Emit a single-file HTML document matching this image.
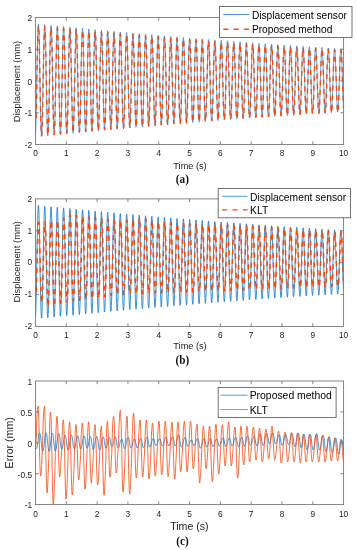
<!DOCTYPE html>
<html lang="en"><head><meta charset="utf-8"><title>Displacement comparison</title>
<style>
html,body{margin:0;padding:0;background:#fff;}
body{width:357px;height:550px;overflow:hidden;}
svg{display:block;}
text{font-family:"Liberation Sans",sans-serif;fill:#222;}
.tk{font-size:8.3px;}
.xl{font-size:9.2px;}
.yl{font-size:9.4px;}
.lg{fill:#000;}
.cap{font-family:"Liberation Serif","DejaVu Serif",serif;font-weight:bold;font-size:12.2px;fill:#111;}
</style></head><body>
<svg width="357" height="550" viewBox="0 0 357 550">
<rect width="100%" height="100%" fill="#fff"/>
<clipPath id="ca"><rect x="35.5" y="17.5" width="308.1" height="127.0"/></clipPath>
<g clip-path="url(#ca)" fill="none" stroke-linejoin="round">
<path d="M35.5 135.3L35.7 131.6L35.9 126.0L36.1 118.7L36.3 110.0L36.5 100.2L36.7 89.7L36.8 78.8L37.0 68.0L37.2 57.7L37.4 48.3L37.6 40.0L37.8 33.2L38.0 28.1L38.2 25.0L38.4 23.9L38.6 24.8L38.8 27.9L39.0 32.8L39.2 39.5L39.4 47.7L39.5 57.0L39.7 67.3L39.9 78.0L40.1 88.8L40.3 99.2L40.5 109.0L40.7 117.7L40.9 125.0L41.1 130.7L41.3 134.5L41.5 136.4L41.7 136.2L41.9 133.9L42.0 129.7L42.2 123.6L42.4 116.0L42.6 107.1L42.8 97.2L43.0 86.6L43.2 75.9L43.4 65.3L43.6 55.3L43.8 46.3L44.0 38.4L44.2 32.2L44.4 27.7L44.6 25.1L44.7 24.6L44.9 26.1L45.1 29.6L45.3 35.0L45.5 42.0L45.7 50.5L45.9 60.0L46.1 70.3L46.3 80.9L46.5 91.5L46.7 101.7L46.9 111.1L47.1 119.4L47.2 126.2L47.4 131.3L47.6 134.6L47.8 135.9L48.0 135.1L48.2 132.3L48.4 127.6L48.6 121.2L48.8 113.3L49.0 104.2L49.2 94.2L49.4 83.7L49.6 73.1L49.7 62.7L49.9 53.1L50.1 44.4L50.3 37.1L50.5 31.3L50.7 27.4L50.9 25.4L51.1 25.4L51.3 27.5L51.5 31.5L51.7 37.3L51.9 44.6L52.1 53.3L52.3 63.0L52.4 73.3L52.6 83.8L52.8 94.2L53.0 104.1L53.2 113.1L53.4 120.9L53.6 127.2L53.8 131.8L54.0 134.5L54.2 135.2L54.4 133.9L54.6 130.6L54.8 125.5L54.9 118.7L55.1 110.5L55.3 101.2L55.5 91.2L55.7 80.8L55.9 70.3L56.1 60.2L56.3 50.9L56.5 42.7L56.7 35.8L56.9 30.6L57.1 27.3L57.3 25.8L57.5 26.4L57.6 29.0L57.8 33.4L58.0 39.6L58.2 47.3L58.4 56.1L58.6 65.9L58.8 76.2L59.0 86.6L59.2 96.8L59.4 106.4L59.6 115.0L59.8 122.3L60.0 128.1L60.1 132.2L60.3 134.3L60.5 134.4L60.7 132.6L60.9 128.8L61.1 123.3L61.3 116.2L61.5 107.8L61.7 98.3L61.9 88.3L62.1 77.9L62.3 67.7L62.5 57.9L62.7 48.9L62.8 41.1L63.0 34.8L63.2 30.1L63.4 27.3L63.6 26.4L63.8 27.6L64.0 30.6L64.2 35.5L64.4 42.0L64.6 50.0L64.8 59.0L65.0 68.8L65.2 79.1L65.3 89.3L65.5 99.3L65.7 108.5L65.9 116.7L66.1 123.6L66.3 128.8L66.5 132.3L66.7 133.9L66.9 133.5L67.1 131.1L67.3 126.9L67.5 121.0L67.7 113.6L67.9 105.0L68.0 95.5L68.2 85.4L68.4 75.1L68.6 65.1L68.8 55.6L69.0 47.1L69.2 39.7L69.4 33.9L69.6 29.8L69.8 27.5L70.0 27.2L70.2 28.8L70.4 32.3L70.5 37.6L70.7 44.5L70.9 52.7L71.1 61.8L71.3 71.7L71.5 81.9L71.7 92.0L71.9 101.6L72.1 110.5L72.3 118.3L72.5 124.7L72.7 129.4L72.9 132.3L73.0 133.3L73.2 132.4L73.4 129.6L73.6 124.9L73.8 118.7L74.0 111.0L74.2 102.2L74.4 92.6L74.6 82.6L74.8 72.5L75.0 62.6L75.2 53.5L75.4 45.3L75.6 38.5L75.7 33.1L75.9 29.6L76.1 27.8L76.3 28.1L76.5 30.2L76.7 34.2L76.9 39.8L77.1 47.0L77.3 55.4L77.5 64.7L77.7 74.5L77.9 84.6L78.1 94.5L78.2 103.9L78.4 112.4L78.6 119.7L78.8 125.6L79.0 129.8L79.2 132.2L79.4 132.7L79.6 131.2L79.8 127.9L80.0 122.9L80.2 116.3L80.4 108.4L80.6 99.4L80.8 89.8L80.9 79.8L81.1 69.8L81.3 60.3L81.5 51.5L81.7 43.7L81.9 37.4L82.1 32.5L82.3 29.5L82.5 28.3L82.7 29.1L82.9 31.7L83.1 36.1L83.3 42.1L83.4 49.6L83.6 58.1L83.8 67.5L84.0 77.3L84.2 87.3L84.4 96.9L84.6 106.0L84.8 114.1L85.0 121.0L85.2 126.4L85.4 130.0L85.6 131.9L85.8 131.9L86.0 129.9L86.1 126.2L86.3 120.7L86.5 113.8L86.7 105.7L86.9 96.6L87.1 87.0L87.3 77.1L87.5 67.3L87.7 58.1L87.9 49.6L88.1 42.3L88.3 36.4L88.5 32.1L88.6 29.6L88.8 28.9L89.0 30.2L89.2 33.3L89.4 38.1L89.6 44.5L89.8 52.1L90.0 60.8L90.2 70.3L90.4 80.0L90.6 89.8L90.8 99.3L91.0 108.0L91.2 115.7L91.3 122.1L91.5 127.0L91.7 130.1L91.9 131.5L92.1 130.9L92.3 128.5L92.5 124.3L92.7 118.5L92.9 111.3L93.1 103.0L93.3 93.9L93.5 84.2L93.7 74.5L93.8 64.9L94.0 55.9L94.2 47.9L94.4 41.0L94.6 35.6L94.8 31.8L95.0 29.8L95.2 29.7L95.4 31.4L95.6 35.0L95.8 40.2L96.0 46.8L96.2 54.7L96.3 63.6L96.5 73.0L96.7 82.7L96.9 92.3L97.1 101.5L97.3 109.9L97.5 117.2L97.7 123.1L97.9 127.5L98.1 130.1L98.3 130.9L98.5 129.8L98.7 127.0L98.9 122.4L99.0 116.3L99.2 108.8L99.4 100.3L99.6 91.1L99.8 81.5L100.0 71.9L100.2 62.6L100.4 54.0L100.6 46.3L100.8 39.9L101.0 34.9L101.2 31.7L101.4 30.2L101.5 30.6L101.7 32.8L101.9 36.8L102.1 42.3L102.3 49.3L102.5 57.3L102.7 66.3L102.9 75.7L103.1 85.3L103.3 94.7L103.5 103.6L103.7 111.6L103.9 118.5L104.1 123.9L104.2 127.8L104.4 129.9L104.6 130.2L104.8 128.7L105.0 125.3L105.2 120.4L105.4 113.9L105.6 106.3L105.8 97.7L106.0 88.4L106.2 78.9L106.4 69.5L106.6 60.4L106.7 52.1L106.9 44.8L107.1 38.8L107.3 34.4L107.5 31.7L107.7 30.7L107.9 31.6L108.1 34.3L108.3 38.6L108.5 44.5L108.7 51.7L108.9 60.0L109.1 68.9L109.3 78.4L109.4 87.8L109.6 97.0L109.8 105.6L110.0 113.2L110.2 119.7L110.4 124.6L110.6 128.0L110.8 129.6L111.0 129.4L111.2 127.4L111.4 123.6L111.6 118.3L111.8 111.6L111.9 103.7L112.1 95.0L112.3 85.8L112.5 76.4L112.7 67.1L112.9 58.3L113.1 50.3L113.3 43.5L113.5 38.0L113.7 34.0L113.9 31.8L114.1 31.4L114.3 32.7L114.5 35.8L114.6 40.6L114.8 46.8L115.0 54.2L115.2 62.6L115.4 71.6L115.6 80.9L115.8 90.3L116.0 99.2L116.2 107.5L116.4 114.7L116.6 120.7L116.8 125.2L117.0 128.0L117.1 129.1L117.3 128.4L117.5 126.0L117.7 121.8L117.9 116.2L118.1 109.2L118.3 101.2L118.5 92.4L118.7 83.2L118.9 73.9L119.1 64.8L119.3 56.3L119.5 48.7L119.6 42.3L119.8 37.3L120.0 33.8L120.2 32.1L120.4 32.1L120.6 34.0L120.8 37.5L121.0 42.6L121.2 49.1L121.4 56.7L121.6 65.2L121.8 74.2L122.0 83.5L122.2 92.6L122.3 101.3L122.5 109.2L122.7 116.0L122.9 121.6L123.1 125.6L123.3 127.9L123.5 128.5L123.7 127.3L123.9 124.5L124.1 119.9L124.3 114.0L124.5 106.8L124.7 98.6L124.8 89.8L125.0 80.6L125.2 71.5L125.4 62.6L125.6 54.4L125.8 47.2L126.0 41.2L126.2 36.7L126.4 33.7L126.6 32.5L126.8 33.0L127.0 35.3L127.2 39.2L127.4 44.7L127.5 51.4L127.7 59.2L127.9 67.8L128.1 76.8L128.3 85.9L128.5 94.9L128.7 103.3L128.9 110.8L129.1 117.3L129.3 122.3L129.5 125.8L129.7 127.7L129.9 127.8L130.0 126.2L130.2 122.9L130.4 118.0L130.6 111.7L130.8 104.3L131.0 96.1L131.2 87.2L131.4 78.1L131.6 69.1L131.8 60.5L132.0 52.7L132.2 45.9L132.4 40.3L132.6 36.2L132.7 33.8L132.9 33.0L133.1 34.0L133.3 36.7L133.5 41.0L133.7 46.8L133.9 53.8L134.1 61.7L134.3 70.3L134.5 79.3L134.7 88.3L134.9 97.0L135.1 105.1L135.2 112.3L135.4 118.3L135.6 122.9L135.8 126.0L136.0 127.3L136.2 127.0L136.4 124.9L136.6 121.2L136.8 116.0L137.0 109.5L137.2 101.9L137.4 93.5L137.6 84.7L137.8 75.7L137.9 66.9L138.1 58.6L138.3 51.1L138.5 44.7L138.7 39.5L138.9 35.9L139.1 34.0L139.3 33.7L139.5 35.2L139.7 38.3L139.9 42.9L140.1 49.0L140.3 56.1L140.4 64.2L140.6 72.8L140.8 81.8L141.0 90.6L141.2 99.1L141.4 106.9L141.6 113.7L141.8 119.3L142.0 123.4L142.2 126.0L142.4 126.8L142.6 126.0L142.8 123.5L142.9 119.4L143.1 113.9L143.3 107.2L143.5 99.4L143.7 91.0L143.9 82.2L144.1 73.3L144.3 64.7L144.5 56.7L144.7 49.6L144.9 43.6L145.1 38.9L145.3 35.8L145.5 34.3L145.6 34.5L145.8 36.4L146.0 39.9L146.2 44.9L146.4 51.2L146.6 58.5L146.8 66.7L147.0 75.3L147.2 84.2L147.4 92.8L147.6 101.1L147.8 108.5L148.0 114.9L148.1 120.1L148.3 123.7L148.5 125.8L148.7 126.2L148.9 125.0L149.1 122.0L149.3 117.6L149.5 111.8L149.7 104.8L149.9 97.0L150.1 88.5L150.3 79.8L150.5 71.1L150.7 62.7L150.8 55.0L151.0 48.2L151.2 42.6L151.4 38.4L151.6 35.7L151.8 34.7L152.0 35.4L152.2 37.7L152.4 41.6L152.6 46.9L152.8 53.4L153.0 60.9L153.2 69.1L153.3 77.8L153.5 86.5L153.7 95.0L153.9 102.9L154.1 110.0L154.3 116.0L154.5 120.7L154.7 123.9L154.9 125.6L155.1 125.5L155.3 123.8L155.5 120.5L155.7 115.7L155.9 109.6L156.0 102.5L156.2 94.5L156.4 86.1L156.6 77.4L156.8 68.9L157.0 60.7L157.2 53.3L157.4 46.9L157.6 41.8L157.8 38.0L158.0 35.8L158.2 35.3L158.4 36.4L158.5 39.1L158.7 43.4L158.9 48.9L159.1 55.7L159.3 63.3L159.5 71.6L159.7 80.2L159.9 88.7L160.1 97.0L160.3 104.7L160.5 111.4L160.7 117.0L160.9 121.3L161.1 124.0L161.2 125.2L161.4 124.7L161.6 122.5L161.8 118.8L162.0 113.8L162.2 107.4L162.4 100.1L162.6 92.1L162.8 83.7L163.0 75.1L163.2 66.7L163.4 58.9L163.6 51.8L163.7 45.8L163.9 41.1L164.1 37.8L164.3 36.1L164.5 36.0L164.7 37.5L164.9 40.6L165.1 45.2L165.3 51.0L165.5 58.0L165.7 65.7L165.9 74.0L166.1 82.5L166.2 90.9L166.4 98.9L166.6 106.3L166.8 112.7L167.0 117.9L167.2 121.7L167.4 124.0L167.6 124.6L167.8 123.7L168.0 121.2L168.2 117.1L168.4 111.8L168.6 105.2L168.8 97.8L168.9 89.7L169.1 81.3L169.3 72.9L169.5 64.7L169.7 57.2L169.9 50.4L170.1 44.8L170.3 40.5L170.5 37.7L170.7 36.4L170.9 36.8L171.1 38.7L171.3 42.2L171.4 47.1L171.6 53.2L171.8 60.3L172.0 68.1L172.2 76.4L172.4 84.8L172.6 93.0L172.8 100.8L173.0 107.8L173.2 113.8L173.4 118.6L173.6 121.9L173.8 123.8L174.0 124.0L174.1 122.6L174.3 119.7L174.5 115.4L174.7 109.7L174.9 103.0L175.1 95.5L175.3 87.4L175.5 79.0L175.7 70.7L175.9 62.8L176.1 55.5L176.3 49.2L176.5 43.9L176.6 40.1L176.8 37.7L177.0 36.9L177.2 37.7L177.4 40.0L177.6 43.8L177.8 49.0L178.0 55.3L178.2 62.6L178.4 70.4L178.6 78.7L178.8 87.0L179.0 95.0L179.2 102.5L179.3 109.2L179.5 114.8L179.7 119.2L179.9 122.1L180.1 123.5L180.3 123.3L180.5 121.5L180.7 118.2L180.9 113.5L181.1 107.6L181.3 100.8L181.5 93.1L181.7 85.0L181.8 76.8L182.0 68.7L182.2 61.0L182.4 54.0L182.6 48.0L182.8 43.2L183.0 39.8L183.2 37.8L183.4 37.5L183.6 38.7L183.8 41.4L184.0 45.6L184.2 51.0L184.4 57.5L184.5 64.9L184.7 72.8L184.9 81.0L185.1 89.1L185.3 96.9L185.5 104.2L185.7 110.5L185.9 115.7L186.1 119.6L186.3 122.1L186.5 123.1L186.7 122.4L186.9 120.3L187.0 116.6L187.2 111.7L187.4 105.5L187.6 98.5L187.8 90.8L188.0 82.8L188.2 74.6L188.4 66.7L188.6 59.2L188.8 52.6L189.0 47.0L189.2 42.6L189.4 39.6L189.6 38.1L189.7 38.1L189.9 39.8L190.1 42.9L190.3 47.3L190.5 53.0L190.7 59.7L190.9 67.1L191.1 75.1L191.3 83.2L191.5 91.2L191.7 98.8L191.9 105.7L192.1 111.7L192.2 116.5L192.4 120.0L192.6 122.0L192.8 122.5L193.0 121.5L193.2 118.9L193.4 115.0L193.6 109.7L193.8 103.4L194.0 96.3L194.2 88.5L194.4 80.5L194.6 72.5L194.7 64.8L194.9 57.6L195.1 51.3L195.3 46.1L195.5 42.1L195.7 39.5L195.9 38.5L196.1 38.9L196.3 40.9L196.5 44.4L196.7 49.2L196.9 55.1L197.1 61.9L197.3 69.4L197.4 77.3L197.6 85.3L197.8 93.1L198.0 100.5L198.2 107.1L198.4 112.7L198.6 117.1L198.8 120.2L199.0 121.8L199.2 121.9L199.4 120.4L199.6 117.5L199.8 113.2L199.9 107.8L200.1 101.3L200.3 94.0L200.5 86.3L200.7 78.3L200.9 70.5L201.1 62.9L201.3 56.1L201.5 50.1L201.7 45.3L201.9 41.7L202.1 39.6L202.3 38.9L202.5 39.8L202.6 42.2L202.8 46.0L203.0 51.0L203.2 57.1L203.4 64.1L203.6 71.6L203.8 79.5L204.0 87.4L204.2 95.0L204.4 102.1L204.6 108.4L204.8 113.6L205.0 117.7L205.1 120.3L205.3 121.5L205.5 121.1L205.7 119.3L205.9 116.0L206.1 111.5L206.3 105.8L206.5 99.1L206.7 91.8L206.9 84.1L207.1 76.2L207.3 68.5L207.5 61.2L207.7 54.7L207.8 49.1L208.0 44.6L208.2 41.5L208.4 39.8L208.6 39.5L208.8 40.8L209.0 43.6L209.2 47.6L209.4 52.9L209.6 59.2L209.8 66.3L210.0 73.9L210.2 81.7L210.3 89.4L210.5 96.8L210.7 103.6L210.9 109.6L211.1 114.4L211.3 118.1L211.5 120.3L211.7 121.0L211.9 120.3L212.1 118.1L212.3 114.5L212.5 109.7L212.7 103.8L212.9 97.0L213.0 89.6L213.2 81.9L213.4 74.1L213.6 66.6L213.8 59.6L214.0 53.4L214.2 48.1L214.4 44.1L214.6 41.3L214.8 40.0L215.0 40.2L215.2 41.9L215.4 45.0L215.5 49.4L215.7 54.9L215.9 61.3L216.1 68.5L216.3 76.0L216.5 83.8L216.7 91.4L216.9 98.5L217.1 105.1L217.3 110.7L217.5 115.1L217.7 118.3L217.9 120.1L218.0 120.5L218.2 119.4L218.4 116.8L218.6 112.9L218.8 107.8L219.0 101.7L219.2 94.8L219.4 87.4L219.6 79.8L219.8 72.2L220.0 64.8L220.2 58.1L220.4 52.2L220.6 47.3L220.7 43.6L220.9 41.3L221.1 40.4L221.3 41.0L221.5 43.1L221.7 46.5L221.9 51.1L222.1 56.8L222.3 63.4L222.5 70.6L222.7 78.2L222.9 85.8L223.1 93.2L223.2 100.2L223.4 106.4L223.6 111.6L223.8 115.7L224.0 118.5L224.2 119.9L224.4 119.8L224.6 118.3L224.8 115.4L225.0 111.2L225.2 105.9L225.4 99.7L225.6 92.7L225.8 85.3L225.9 77.7L226.1 70.2L226.3 63.1L226.5 56.7L226.7 51.1L226.9 46.6L227.1 43.3L227.3 41.4L227.5 40.9L227.7 41.9L227.9 44.3L228.1 48.0L228.3 52.9L228.4 58.8L228.6 65.5L228.8 72.8L229.0 80.3L229.2 87.8L229.4 95.0L229.6 101.7L229.8 107.6L230.0 112.5L230.2 116.2L230.4 118.6L230.6 119.5L230.8 119.1L231.0 117.2L231.1 114.0L231.3 109.5L231.5 104.0L231.7 97.6L231.9 90.6L232.1 83.2L232.3 75.7L232.5 68.4L232.7 61.5L232.9 55.3L233.1 50.1L233.3 46.0L233.5 43.1L233.6 41.6L233.8 41.5L234.0 42.9L234.2 45.6L234.4 49.6L234.6 54.8L234.8 60.8L235.0 67.6L235.2 74.9L235.4 82.3L235.6 89.7L235.8 96.7L236.0 103.1L236.2 108.7L236.3 113.2L236.5 116.5L236.7 118.5L236.9 119.1L237.1 118.3L237.3 116.0L237.5 112.5L237.7 107.8L237.9 102.1L238.1 95.5L238.3 88.5L238.5 81.1L238.7 73.8L238.8 66.6L239.0 60.0L239.2 54.1L239.4 49.2L239.6 45.5L239.8 43.0L240.0 41.9L240.2 42.2L240.4 44.0L240.6 47.0L240.8 51.3L241.0 56.6L241.2 62.8L241.3 69.7L241.5 76.9L241.7 84.3L241.9 91.5L242.1 98.3L242.3 104.4L242.5 109.7L242.7 113.8L242.9 116.8L243.1 118.3L243.3 118.5L243.5 117.3L243.7 114.8L243.9 110.9L244.0 106.0L244.2 100.1L244.4 93.5L244.6 86.4L244.8 79.1L245.0 71.9L245.2 64.9L245.4 58.6L245.6 53.0L245.8 48.5L246.0 45.1L246.2 43.0L246.4 42.3L246.5 43.0L246.7 45.1L246.9 48.5L247.1 53.0L247.3 58.5L247.5 64.9L247.7 71.8L247.9 79.0L248.1 86.2L248.3 93.2L248.5 99.8L248.7 105.6L248.9 110.5L249.1 114.3L249.2 116.9L249.4 118.1L249.6 117.9L249.8 116.3L250.0 113.4L250.2 109.3L250.4 104.2L250.6 98.1L250.8 91.5L251.0 84.4L251.2 77.2L251.4 70.1L251.6 63.3L251.7 57.3L251.9 52.0L252.1 47.8L252.3 44.8L252.5 43.2L252.7 42.8L252.9 43.9L253.1 46.3L253.3 50.0L253.5 54.7L253.7 60.4L253.9 66.9L254.1 73.8L254.3 80.9L254.4 88.1L254.6 94.9L254.8 101.2L255.0 106.8L255.2 111.3L255.4 114.7L255.6 116.9L255.8 117.7L256.0 117.1L256.2 115.2L256.4 112.0L256.6 107.7L256.8 102.3L256.9 96.2L257.1 89.4L257.3 82.4L257.5 75.3L257.7 68.3L257.9 61.8L258.1 56.0L258.3 51.1L258.5 47.3L258.7 44.7L258.9 43.4L259.1 43.5L259.3 44.9L259.5 47.6L259.6 51.5L259.8 56.5L260.0 62.4L260.2 68.9L260.4 75.8L260.6 82.9L260.8 89.9L261.0 96.5L261.2 102.6L261.4 107.8L261.6 112.0L261.8 115.0L262.0 116.8L262.1 117.2L262.3 116.3L262.5 114.1L262.7 110.6L262.9 106.0L263.1 100.5L263.3 94.2L263.5 87.4L263.7 80.4L263.9 73.4L264.1 66.7L264.3 60.4L264.5 54.9L264.6 50.3L264.8 46.9L265.0 44.6L265.2 43.7L265.4 44.2L265.6 45.9L265.8 48.9L266.0 53.1L266.2 58.3L266.4 64.3L266.6 70.8L266.8 77.8L267.0 84.8L267.2 91.6L267.3 98.0L267.5 103.8L267.7 108.7L267.9 112.5L268.1 115.2L268.3 116.6L268.5 116.7L268.7 115.4L268.9 112.8L269.1 109.1L269.3 104.3L269.5 98.6L269.7 92.3L269.8 85.5L270.0 78.5L270.2 71.6L270.4 65.1L270.6 59.1L270.8 53.9L271.0 49.6L271.2 46.5L271.4 44.7L271.6 44.1L271.8 44.9L272.0 47.0L272.2 50.3L272.4 54.8L272.5 60.1L272.7 66.2L272.9 72.8L273.1 79.7L273.3 86.6L273.5 93.2L273.7 99.4L273.9 104.9L274.1 109.5L274.3 113.0L274.5 115.3L274.7 116.3L274.9 116.0L275.0 114.4L275.2 111.5L275.4 107.5L275.6 102.5L275.8 96.7L276.0 90.3L276.2 83.5L276.4 76.7L276.6 69.9L276.8 63.6L277.0 57.8L277.2 52.9L277.4 49.1L277.6 46.3L277.7 44.8L277.9 44.7L278.1 45.8L278.3 48.2L278.5 51.8L278.7 56.4L278.9 61.9L279.1 68.1L279.3 74.7L279.5 81.6L279.7 88.3L279.9 94.8L280.1 100.8L280.2 106.0L280.4 110.2L280.6 113.3L280.8 115.3L281.0 115.9L281.2 115.3L281.4 113.3L281.6 110.2L281.8 105.9L282.0 100.8L282.2 94.8L282.4 88.4L282.6 81.6L282.8 74.9L282.9 68.3L283.1 62.2L283.3 56.7L283.5 52.1L283.7 48.6L283.9 46.2L284.1 45.1L284.3 45.3L284.5 46.8L284.7 49.5L284.9 53.3L285.1 58.1L285.3 63.8L285.4 70.0L285.6 76.6L285.8 83.4L286.0 90.0L286.2 96.3L286.4 102.0L286.6 106.9L286.8 110.8L287.0 113.6L287.2 115.2L287.4 115.5L287.6 114.5L287.8 112.2L287.9 108.8L288.1 104.3L288.3 99.0L288.5 93.0L288.7 86.5L288.9 79.8L289.1 73.1L289.3 66.7L289.5 60.8L289.7 55.7L289.9 51.4L290.1 48.2L290.3 46.2L290.5 45.4L290.6 46.0L290.8 47.8L291.0 50.8L291.2 54.8L291.4 59.8L291.6 65.6L291.8 71.9L292.0 78.5L292.2 85.2L292.4 91.7L292.6 97.7L292.8 103.2L293.0 107.7L293.1 111.3L293.3 113.7L293.5 114.9L293.7 114.9L293.9 113.6L294.1 111.0L294.3 107.3L294.5 102.7L294.7 97.2L294.9 91.1L295.1 84.6L295.3 78.0L295.5 71.4L295.7 65.2L295.8 59.6L296.0 54.7L296.2 50.8L296.4 47.9L296.6 46.3L296.8 45.9L297.0 46.8L297.2 48.9L297.4 52.1L297.6 56.4L297.8 61.6L298.0 67.4L298.2 73.8L298.3 80.3L298.5 86.9L298.7 93.2L298.9 99.1L299.1 104.2L299.3 108.5L299.5 111.7L299.7 113.8L299.9 114.6L300.1 114.2L300.3 112.6L300.5 109.7L300.7 105.8L300.9 101.0L301.0 95.4L301.2 89.2L301.4 82.8L301.6 76.2L301.8 69.8L302.0 63.8L302.2 58.4L302.4 53.9L302.6 50.2L302.8 47.8L303.0 46.5L303.2 46.4L303.4 47.6L303.5 50.0L303.7 53.5L303.9 58.0L304.1 63.3L304.3 69.3L304.5 75.6L304.7 82.1L304.9 88.6L305.1 94.7L305.3 100.3L305.5 105.2L305.7 109.1L305.9 112.0L306.1 113.7L306.2 114.2L306.4 113.5L306.6 111.5L306.8 108.4L307.0 104.3L307.2 99.3L307.4 93.6L307.6 87.4L307.8 81.0L308.0 74.5L308.2 68.3L308.4 62.5L308.6 57.4L308.7 53.1L308.9 49.8L309.1 47.7L309.3 46.7L309.5 47.0L309.7 48.5L309.9 51.2L310.1 55.0L310.3 59.7L310.5 65.1L310.7 71.1L310.9 77.4L311.1 83.9L311.2 90.2L311.4 96.1L311.6 101.5L311.8 106.0L312.0 109.7L312.2 112.2L312.4 113.6L312.6 113.8L312.8 112.7L313.0 110.4L313.2 107.1L313.4 102.7L313.6 97.6L313.8 91.8L313.9 85.6L314.1 79.2L314.3 72.9L314.5 66.8L314.7 61.3L314.9 56.4L315.1 52.4L315.3 49.5L315.5 47.7L315.7 47.1L315.9 47.7L316.1 49.5L316.3 52.5L316.4 56.5L316.6 61.3L316.8 66.9L317.0 72.9L317.2 79.2L317.4 85.5L317.6 91.7L317.8 97.4L318.0 102.5L318.2 106.8L318.4 110.1L318.6 112.3L318.8 113.4L319.0 113.2L319.1 111.8L319.3 109.3L319.5 105.7L319.7 101.2L319.9 95.9L320.1 90.0L320.3 83.8L320.5 77.5L320.7 71.3L320.9 65.4L321.1 60.1L321.3 55.5L321.5 51.9L321.6 49.3L321.8 47.8L322.0 47.5L322.2 48.5L322.4 50.6L322.6 53.8L322.8 58.0L323.0 63.0L323.2 68.6L323.4 74.7L323.6 80.9L323.8 87.2L324.0 93.2L324.2 98.7L324.3 103.5L324.5 107.5L324.7 110.5L324.9 112.3L325.1 113.0L325.3 112.5L325.5 110.9L325.7 108.1L325.9 104.2L326.1 99.5L326.3 94.1L326.5 88.3L326.7 82.1L326.8 75.8L327.0 69.8L327.2 64.1L327.4 59.0L327.6 54.7L327.8 51.4L328.0 49.1L328.2 48.0L328.4 48.1L328.6 49.3L328.8 51.7L329.0 55.2L329.2 59.5L329.4 64.6L329.5 70.4L329.7 76.4L329.9 82.6L330.1 88.7L330.3 94.6L330.5 99.8L330.7 104.4L330.9 108.1L331.1 110.7L331.3 112.3L331.5 112.6L331.7 111.8L331.9 109.8L332.0 106.8L332.2 102.8L332.4 97.9L332.6 92.4L332.8 86.5L333.0 80.4L333.2 74.2L333.4 68.3L333.6 62.8L333.8 58.0L334.0 54.0L334.2 51.0L334.4 49.1L334.5 48.3L334.7 48.7L334.9 50.2L335.1 52.9L335.3 56.5L335.5 61.1L335.7 66.3L335.9 72.1L336.1 78.1L336.3 84.3L336.5 90.3L336.7 95.9L336.9 100.9L337.1 105.2L337.2 108.6L337.4 110.9L337.6 112.1L337.8 112.1L338.0 111.0L338.2 108.8L338.4 105.5L338.6 101.3L338.8 96.3L339.0 90.7L339.2 84.8L339.4 78.7L339.6 72.7L339.7 66.9L339.9 61.7L340.1 57.1L340.3 53.4L340.5 50.7L340.7 49.1L340.9 48.6L341.1 49.4L341.3 51.2L341.5 54.1L341.7 58.0L341.9 62.7L342.1 68.0L342.3 73.8L342.4 79.8L342.6 85.9L342.8 91.7L343.0 97.1L343.2 101.9L343.4 105.9L343.6 109.0" stroke="#0a76cf" stroke-width="0.65" opacity="1"/>
<path d="M35.5 111.8L35.7 118.9L35.9 119.8L36.1 116.4L36.3 110.1L36.5 101.7L36.7 92.0L36.8 81.7L37.0 71.2L37.2 61.1L37.4 51.6L37.6 43.2L37.8 36.3L38.0 31.0L38.2 27.5L38.4 26.0L38.6 26.5L38.8 29.0L39.0 33.5L39.2 39.7L39.4 47.3L39.5 56.3L39.7 66.1L39.9 76.5L40.1 87.0L40.3 97.3L40.5 107.0L40.7 115.7L40.9 123.2L41.1 129.1L41.3 133.2L41.5 135.4L41.7 135.6L41.9 133.8L42.0 130.1L42.2 124.5L42.4 117.4L42.6 108.9L42.8 99.4L43.0 89.3L43.2 78.8L43.4 68.5L43.6 58.6L43.8 49.5L44.0 41.6L44.2 35.1L44.4 30.4L44.6 27.5L44.7 26.6L44.9 27.6L45.1 30.7L45.3 35.5L45.5 42.1L45.7 50.0L45.9 59.1L46.1 69.0L46.3 79.4L46.5 89.8L46.7 99.8L46.9 109.2L47.1 117.5L47.2 124.4L47.4 129.8L47.6 133.4L47.8 135.0L48.0 134.7L48.2 132.4L48.4 128.2L48.6 122.2L48.8 114.8L49.0 106.1L49.2 96.5L49.4 86.4L49.6 76.0L49.7 65.9L49.9 56.3L50.1 47.6L50.3 40.2L50.5 34.2L50.7 30.0L50.9 27.7L51.1 27.3L51.3 28.9L51.5 32.4L51.7 37.7L51.9 44.6L52.1 52.8L52.3 62.0L52.4 71.9L52.6 82.2L52.8 92.4L53.0 102.2L53.2 111.2L53.4 119.1L53.6 125.6L53.8 130.4L54.0 133.4L54.2 134.5L54.4 133.6L54.6 130.8L54.8 126.2L54.9 119.9L55.1 112.2L55.3 103.3L55.5 93.6L55.7 83.5L55.9 73.3L56.1 63.4L56.3 54.1L56.5 45.8L56.7 38.9L56.9 33.4L57.1 29.8L57.3 28.0L57.5 28.1L57.6 30.2L57.8 34.2L58.0 39.9L58.2 47.1L58.4 55.5L58.6 64.9L58.8 74.8L59.0 85.0L59.2 95.0L59.4 104.5L59.6 113.1L59.8 120.5L60.0 126.5L60.1 130.8L60.3 133.3L60.5 133.8L60.7 132.4L60.9 129.2L61.1 124.1L61.3 117.5L61.5 109.5L61.7 100.5L61.9 90.8L62.1 80.7L62.3 70.7L62.5 61.0L62.7 52.1L62.8 44.2L63.0 37.7L63.2 32.8L63.4 29.7L63.6 28.4L63.8 29.1L64.0 31.7L64.2 36.1L64.4 42.2L64.6 49.6L64.8 58.3L65.0 67.7L65.2 77.6L65.3 87.7L65.5 97.5L65.7 106.6L65.9 114.9L66.1 121.8L66.3 127.3L66.5 131.1L66.7 133.0L66.9 133.0L67.1 131.1L67.3 127.4L67.5 122.0L67.7 115.0L67.9 106.8L68.0 97.7L68.2 88.0L68.4 78.0L68.6 68.1L68.8 58.7L69.0 50.2L69.2 42.8L69.4 36.7L69.6 32.4L69.8 29.8L70.0 29.1L70.2 30.3L70.4 33.3L70.5 38.1L70.7 44.5L70.9 52.2L71.1 61.0L71.3 70.5L71.5 80.4L71.7 90.3L71.9 99.8L72.1 108.7L72.3 116.5L72.5 123.0L72.7 128.0L72.9 131.2L73.0 132.6L73.2 132.1L73.4 129.7L73.6 125.5L73.8 119.7L74.0 112.5L74.2 104.1L74.4 94.9L74.6 85.2L74.8 75.3L75.0 65.7L75.2 56.6L75.4 48.4L75.6 41.4L75.7 35.9L75.9 32.0L76.1 30.0L76.3 29.8L76.5 31.5L76.7 35.0L76.9 40.2L77.1 46.9L77.3 54.9L77.5 63.8L77.7 73.3L77.9 83.1L78.1 92.8L78.2 102.1L78.4 110.6L78.6 118.0L78.8 124.0L79.0 128.5L79.2 131.2L79.4 132.0L79.6 131.0L79.8 128.2L80.0 123.6L80.2 117.5L80.4 110.0L80.6 101.4L80.8 92.2L80.9 82.5L81.1 72.7L81.3 63.3L81.5 54.6L81.7 46.8L81.9 40.2L82.1 35.2L82.3 31.9L82.5 30.3L82.7 30.7L82.9 32.9L83.1 36.8L83.3 42.4L83.4 49.3L83.6 57.5L83.8 66.5L84.0 76.0L84.2 85.7L84.4 95.2L84.6 104.2L84.8 112.3L85.0 119.3L85.2 124.9L85.4 128.8L85.6 131.0L85.8 131.4L86.0 129.9L86.1 126.6L86.3 121.6L86.5 115.1L86.7 107.4L86.9 98.8L87.1 89.4L87.3 79.8L87.5 70.3L87.7 61.1L87.9 52.7L88.1 45.3L88.3 39.2L88.5 34.7L88.6 31.9L88.8 30.8L89.0 31.7L89.2 34.3L89.4 38.7L89.6 44.6L89.8 51.8L90.0 60.1L90.2 69.2L90.4 78.7L90.6 88.3L90.8 97.6L91.0 106.2L91.2 114.0L91.3 120.5L91.5 125.6L91.7 129.0L91.9 130.7L92.1 130.5L92.3 128.6L92.5 124.8L92.7 119.5L92.9 112.8L93.1 104.9L93.3 96.1L93.5 86.8L93.7 77.2L93.8 67.8L94.0 59.0L94.2 50.9L94.4 43.9L94.6 38.3L94.8 34.3L95.0 32.0L95.2 31.5L95.4 32.8L95.6 35.9L95.8 40.6L96.0 46.8L96.2 54.3L96.3 62.8L96.5 71.9L96.7 81.3L96.9 90.7L97.1 99.8L97.3 108.1L97.5 115.5L97.7 121.6L97.9 126.2L98.1 129.1L98.3 130.3L98.5 129.6L98.7 127.2L98.9 123.0L99.0 117.4L99.2 110.4L99.4 102.3L99.6 93.4L99.8 84.1L100.0 74.7L100.2 65.5L100.4 56.9L100.6 49.2L100.8 42.7L101.0 37.6L101.2 34.0L101.4 32.3L101.5 32.2L101.7 34.0L101.9 37.5L102.1 42.6L102.3 49.2L102.5 56.8L102.7 65.4L102.9 74.5L103.1 83.9L103.3 93.1L103.5 101.9L103.7 109.9L103.9 116.9L104.1 122.5L104.2 126.6L104.4 129.0L104.6 129.7L104.8 128.5L105.0 125.7L105.2 121.1L105.4 115.2L105.6 107.9L105.8 99.7L106.0 90.8L106.2 81.5L106.4 72.3L106.6 63.3L106.7 55.0L106.9 47.7L107.1 41.6L107.3 37.0L107.5 33.9L107.7 32.6L107.9 33.1L108.1 35.4L108.3 39.3L108.5 44.7L108.7 51.5L108.9 59.4L109.1 68.0L109.3 77.1L109.4 86.4L109.6 95.4L109.8 103.9L110.0 111.6L110.2 118.1L110.4 123.3L110.6 126.9L110.8 128.8L111.0 129.0L111.2 127.4L111.4 124.1L111.6 119.2L111.8 112.9L111.9 105.5L112.1 97.1L112.3 88.2L112.5 79.0L112.7 69.9L112.9 61.2L113.1 53.3L113.3 46.3L113.5 40.7L113.7 36.5L113.9 34.0L114.1 33.2L114.3 34.1L114.5 36.8L114.6 41.1L114.8 46.9L115.0 53.9L115.2 61.9L115.4 70.6L115.6 79.7L115.8 88.8L116.0 97.6L116.2 105.8L116.4 113.1L116.6 119.2L116.8 123.9L117.0 127.0L117.1 128.5L117.3 128.1L117.5 126.1L117.7 122.4L117.9 117.2L118.1 110.6L118.3 103.0L118.5 94.6L118.7 85.6L118.9 76.5L119.1 67.6L119.3 59.2L119.5 51.6L119.6 45.1L119.8 39.9L120.0 36.2L120.2 34.1L120.4 33.8L120.6 35.2L120.8 38.3L121.0 43.0L121.2 49.1L121.4 56.3L121.6 64.4L121.8 73.1L122.0 82.1L122.2 91.1L122.3 99.7L122.5 107.6L122.7 114.5L122.9 120.2L123.1 124.4L123.3 127.0L123.5 128.0L123.7 127.2L123.9 124.7L124.1 120.6L124.3 115.1L124.5 108.3L124.7 100.5L124.8 92.0L125.0 83.1L125.2 74.2L125.4 65.5L125.6 57.3L125.8 50.1L126.0 44.0L126.2 39.2L126.4 36.0L126.6 34.5L126.8 34.6L127.0 36.5L127.2 40.0L127.4 45.0L127.5 51.3L127.7 58.7L127.9 66.9L128.1 75.7L128.3 84.6L128.5 93.4L128.7 101.7L128.9 109.2L129.1 115.8L129.3 121.0L129.5 124.8L129.7 126.9L129.9 127.4L130.0 126.1L130.2 123.2L130.4 118.8L130.6 113.0L130.8 106.0L131.0 98.0L131.2 89.5L131.4 80.7L131.6 71.8L131.8 63.4L132.0 55.5L132.2 48.7L132.4 43.0L132.6 38.7L132.7 36.0L132.9 34.9L133.1 35.5L133.3 37.8L133.5 41.7L133.7 47.0L133.9 53.6L134.1 61.1L134.3 69.4L134.5 78.1L134.7 86.9L134.9 95.5L135.1 103.6L135.2 110.8L135.4 116.9L135.6 121.7L135.8 125.0L136.0 126.7L136.2 126.6L136.4 125.0L136.6 121.7L136.8 116.9L137.0 110.8L137.2 103.6L137.4 95.6L137.6 87.0L137.8 78.3L137.9 69.6L138.1 61.4L138.3 53.9L138.5 47.4L138.7 42.1L138.9 38.3L139.1 36.0L139.3 35.4L139.5 36.5L139.7 39.2L139.9 43.4L140.1 49.1L140.3 55.8L140.4 63.5L140.6 71.9L140.8 80.5L141.0 89.2L141.2 97.6L141.4 105.3L141.6 112.2L141.8 117.9L142.0 122.2L142.2 125.1L142.4 126.3L142.6 125.8L142.8 123.7L142.9 120.0L143.1 114.9L143.3 108.6L143.5 101.2L143.7 93.1L143.9 84.6L144.1 75.9L144.3 67.5L144.5 59.5L144.7 52.3L144.9 46.2L145.1 41.4L145.3 38.0L145.5 36.2L145.6 36.1L145.8 37.6L146.0 40.7L146.2 45.3L146.4 51.2L146.6 58.1L146.8 66.0L147.0 74.3L147.2 82.9L147.4 91.4L147.6 99.6L147.8 107.0L148.0 113.5L148.1 118.8L148.3 122.7L148.5 125.0L148.7 125.8L148.9 124.9L149.1 122.3L149.3 118.3L149.5 112.9L149.7 106.4L149.9 98.9L150.1 90.7L150.3 82.2L150.5 73.7L150.7 65.4L150.8 57.7L151.0 50.9L151.2 45.2L151.4 40.8L151.6 37.9L151.8 36.6L152.0 36.9L152.2 38.8L152.4 42.3L152.6 47.2L152.8 53.3L153.0 60.5L153.2 68.4L153.3 76.7L153.5 85.2L153.7 93.6L153.9 101.4L154.1 108.5L154.3 114.7L154.5 119.5L154.7 123.0L154.9 124.9L155.1 125.1L155.3 123.8L155.5 120.9L155.7 116.5L155.9 110.9L156.0 104.1L156.2 96.5L156.4 88.3L156.6 79.9L156.8 71.5L157.0 63.5L157.2 56.1L157.4 49.6L157.6 44.3L157.8 40.4L158.0 37.9L158.2 37.0L158.4 37.8L158.5 40.1L158.7 43.9L158.9 49.1L159.1 55.5L159.3 62.8L159.5 70.7L159.7 79.1L159.9 87.4L160.1 95.6L160.3 103.2L160.5 110.0L160.7 115.7L160.9 120.1L161.1 123.1L161.2 124.6L161.4 124.4L161.6 122.7L161.8 119.4L162.0 114.7L162.2 108.8L162.4 101.8L162.6 94.1L162.8 86.0L163.0 77.6L163.2 69.4L163.4 61.6L163.6 54.5L163.7 48.4L163.9 43.6L164.1 40.0L164.3 38.0L164.5 37.6L164.7 38.8L164.9 41.5L165.1 45.7L165.3 51.1L165.5 57.7L165.7 65.1L165.9 73.1L166.1 81.3L166.2 89.6L166.4 97.5L166.6 104.9L166.8 111.3L167.0 116.6L167.2 120.6L167.4 123.2L167.6 124.2L167.8 123.6L168.0 121.4L168.2 117.8L168.4 112.8L168.6 106.7L168.8 99.6L168.9 91.8L169.1 83.7L169.3 75.4L169.5 67.4L169.7 59.8L169.9 53.1L170.1 47.4L170.3 42.9L170.5 39.8L170.7 38.3L170.9 38.3L171.1 39.9L171.3 43.0L171.4 47.4L171.6 53.2L171.8 59.9L172.0 67.4L172.2 75.4L172.4 83.6L172.6 91.7L172.8 99.4L173.0 106.4L173.2 112.5L173.4 117.4L173.6 121.0L173.8 123.1L174.0 123.6L174.1 122.6L174.3 120.1L174.5 116.1L174.7 110.9L174.9 104.5L175.1 97.3L175.3 89.5L175.5 81.4L175.7 73.3L175.9 65.4L176.1 58.2L176.3 51.8L176.5 46.5L176.6 42.4L176.8 39.8L177.0 38.6L177.2 39.1L177.4 41.1L177.6 44.5L177.8 49.3L178.0 55.2L178.2 62.1L178.4 69.7L178.6 77.7L178.8 85.8L179.0 93.7L179.2 101.1L179.3 107.8L179.5 113.6L179.7 118.1L179.9 121.2L180.1 122.9L180.3 123.0L180.5 121.6L180.7 118.7L180.9 114.4L181.1 108.9L181.3 102.4L181.5 95.0L181.7 87.2L181.8 79.2L182.0 71.2L182.2 63.6L182.4 56.6L182.6 50.6L182.8 45.6L183.0 42.0L183.2 39.8L183.4 39.1L183.6 40.0L183.8 42.3L184.0 46.1L184.2 51.2L184.4 57.3L184.5 64.3L184.7 72.0L184.9 79.9L185.1 87.9L185.3 95.6L185.5 102.8L185.7 109.2L185.9 114.5L186.1 118.6L186.3 121.3L186.5 122.6L186.7 122.3L186.9 120.5L187.0 117.2L187.2 112.6L187.4 106.9L187.6 100.2L187.8 92.8L188.0 85.0L188.2 77.0L188.4 69.2L188.6 61.9L188.8 55.2L189.0 49.5L189.2 45.0L189.4 41.7L189.6 40.0L189.7 39.7L189.9 41.0L190.1 43.7L190.3 47.8L190.5 53.1L190.7 59.4L190.9 66.5L191.1 74.2L191.3 82.1L191.5 89.9L191.7 97.4L191.9 104.3L192.1 110.4L192.2 115.3L192.4 119.0L192.6 121.3L192.8 122.1L193.0 121.4L193.2 119.2L193.4 115.6L193.6 110.8L193.8 104.8L194.0 98.0L194.2 90.6L194.4 82.8L194.6 74.9L194.7 67.3L194.9 60.2L195.1 53.9L195.3 48.5L195.5 44.4L195.7 41.6L195.9 40.2L196.1 40.4L196.3 42.0L196.5 45.1L196.7 49.5L196.9 55.0L197.1 61.5L197.3 68.7L197.4 76.4L197.6 84.2L197.8 91.9L198.0 99.2L198.2 105.8L198.4 111.5L198.6 116.0L198.8 119.3L199.0 121.2L199.2 121.6L199.4 120.5L199.6 117.9L199.8 114.0L199.9 108.9L200.1 102.8L200.3 95.8L200.5 88.4L200.7 80.6L200.9 72.9L201.1 65.5L201.3 58.7L201.5 52.6L201.7 47.7L201.9 43.9L202.1 41.6L202.3 40.6L202.5 41.2L202.6 43.2L202.8 46.6L203.0 51.3L203.2 57.0L203.4 63.7L203.6 70.9L203.8 78.6L204.0 86.3L204.2 93.8L204.4 100.8L204.6 107.1L204.8 112.5L205.0 116.6L205.1 119.5L205.3 121.0L205.5 120.9L205.7 119.5L205.9 116.6L206.1 112.4L206.3 107.0L206.5 100.7L206.7 93.7L206.9 86.2L207.1 78.5L207.3 71.0L207.5 63.8L207.7 57.2L207.8 51.5L208.0 46.9L208.2 43.6L208.4 41.6L208.6 41.1L208.8 42.1L209.0 44.5L209.2 48.2L209.4 53.1L209.6 59.0L209.8 65.8L210.0 73.1L210.2 80.7L210.3 88.3L210.5 95.6L210.7 102.4L210.9 108.4L211.1 113.3L211.3 117.1L211.5 119.6L211.7 120.6L211.9 120.2L212.1 118.3L212.3 115.1L212.5 110.6L212.7 105.1L212.9 98.6L213.0 91.5L213.2 84.1L213.4 76.5L213.6 69.1L213.8 62.1L214.0 55.9L214.2 50.5L214.4 46.3L214.6 43.4L214.8 41.8L215.0 41.7L215.2 43.1L215.4 45.8L215.5 49.8L215.7 54.9L215.9 61.1L216.1 67.9L216.3 75.2L216.5 82.7L216.7 90.2L216.9 97.3L217.1 103.8L217.3 109.5L217.5 114.1L217.7 117.5L217.9 119.5L218.0 120.2L218.2 119.4L218.4 117.2L218.6 113.6L218.8 108.9L219.0 103.1L219.2 96.6L219.4 89.4L219.6 82.0L219.8 74.5L220.0 67.3L220.2 60.6L220.4 54.6L220.6 49.6L220.7 45.8L220.9 43.3L221.1 42.1L221.3 42.4L221.5 44.1L221.7 47.2L221.9 51.5L222.1 56.8L222.3 63.1L222.5 70.0L222.7 77.3L222.9 84.8L223.1 92.0L223.2 98.9L223.4 105.2L223.6 110.5L223.8 114.7L224.0 117.7L224.2 119.4L224.4 119.6L224.6 118.4L224.8 115.9L225.0 112.0L225.2 107.1L225.4 101.1L225.6 94.5L225.8 87.3L225.9 80.0L226.1 72.6L226.3 65.6L226.5 59.1L226.7 53.5L226.9 48.9L227.1 45.4L227.3 43.3L227.5 42.5L227.7 43.2L227.9 45.3L228.1 48.6L228.3 53.2L228.4 58.7L228.6 65.1L228.8 72.1L229.0 79.4L229.2 86.7L229.4 93.8L229.6 100.5L229.8 106.4L230.0 111.4L230.2 115.3L230.4 117.9L230.6 119.1L230.8 119.0L231.0 117.4L231.1 114.5L231.3 110.4L231.5 105.2L231.7 99.2L231.9 92.4L232.1 85.3L232.3 78.0L232.5 70.8L232.7 64.0L232.9 57.8L233.1 52.5L233.3 48.2L233.5 45.1L233.6 43.4L233.8 43.0L234.0 44.1L234.2 46.5L234.4 50.1L234.6 54.9L234.8 60.7L235.0 67.1L235.2 74.1L235.4 81.4L235.6 88.6L235.8 95.5L236.0 101.9L236.2 107.5L236.3 112.2L236.5 115.7L236.7 117.9L236.9 118.8L237.1 118.2L237.3 116.3L237.5 113.1L237.7 108.8L237.9 103.4L238.1 97.2L238.3 90.4L238.5 83.3L238.7 76.0L238.8 69.0L239.0 62.4L239.2 56.5L239.4 51.6L239.6 47.7L239.8 45.0L240.0 43.6L240.2 43.7L240.4 45.0L240.6 47.8L240.8 51.7L241.0 56.7L241.2 62.6L241.3 69.2L241.5 76.2L241.7 83.3L241.9 90.4L242.1 97.1L242.3 103.3L242.5 108.6L242.7 112.9L242.9 116.0L243.1 117.8L243.3 118.3L243.5 117.4L243.7 115.2L243.9 111.7L244.0 107.1L244.2 101.5L244.4 95.2L244.6 88.4L244.8 81.3L245.0 74.2L245.2 67.3L245.4 61.0L245.6 55.4L245.8 50.7L246.0 47.2L246.2 44.9L246.4 44.0L246.5 44.3L246.7 46.1L246.9 49.1L247.1 53.3L247.3 58.5L247.5 64.5L247.7 71.2L247.9 78.2L248.1 85.2L248.3 92.2L248.5 98.7L248.7 104.5L248.9 109.5L249.1 113.4L249.2 116.2L249.4 117.6L249.6 117.7L249.8 116.5L250.0 113.9L250.2 110.2L250.4 105.3L250.6 99.6L250.8 93.2L251.0 86.4L251.2 79.3L251.4 72.4L251.6 65.7L251.7 59.6L251.9 54.4L252.1 50.0L252.3 46.9L252.5 45.0L252.7 44.4L252.9 45.1L253.1 47.2L253.3 50.5L253.5 55.0L253.7 60.3L253.9 66.5L254.1 73.2L254.3 80.1L254.4 87.1L254.6 93.8L254.8 100.1L255.0 105.7L255.2 110.3L255.4 113.9L255.6 116.3L255.8 117.3L256.0 117.1L256.2 115.5L256.4 112.6L256.6 108.6L256.8 103.6L256.9 97.7L257.1 91.3L257.3 84.4L257.5 77.5L257.7 70.6L257.9 64.2L258.1 58.4L258.3 53.4L258.5 49.4L258.7 46.6L258.9 45.1L259.1 44.9L259.3 46.0L259.5 48.4L259.6 52.0L259.8 56.6L260.0 62.2L260.2 68.4L260.4 75.1L260.6 82.0L260.8 88.9L261.0 95.4L261.2 101.5L261.4 106.7L261.6 111.1L261.8 114.3L262.0 116.3L262.1 117.0L262.3 116.3L262.5 114.4L262.7 111.3L262.9 107.0L263.1 101.8L263.3 95.8L263.5 89.3L263.7 82.5L263.9 75.6L264.1 69.0L264.3 62.8L264.5 57.2L264.6 52.6L264.8 49.0L265.0 46.5L265.2 45.4L265.4 45.5L265.6 47.0L265.8 49.7L266.0 53.5L266.2 58.4L266.4 64.0L266.6 70.3L266.8 77.0L267.0 83.9L267.2 90.6L267.3 97.0L267.5 102.7L267.7 107.7L267.9 111.7L268.1 114.5L268.3 116.2L268.5 116.5L268.7 115.5L268.9 113.3L269.1 109.8L269.3 105.4L269.5 100.0L269.7 93.9L269.8 87.4L270.0 80.6L270.2 73.9L270.4 67.4L270.6 61.4L270.8 56.2L271.0 51.8L271.2 48.6L271.4 46.5L271.6 45.7L271.8 46.2L272.0 48.0L272.2 51.0L272.4 55.1L272.5 60.1L272.7 65.9L272.9 72.3L273.1 78.9L273.3 85.7L273.5 92.2L273.7 98.4L273.9 103.9L274.1 108.6L274.3 112.2L274.5 114.7L274.7 116.0L274.9 115.9L275.0 114.6L275.2 112.1L275.4 108.4L275.6 103.7L275.8 98.2L276.0 92.0L276.2 85.5L276.4 78.8L276.6 72.2L276.8 65.9L277.0 60.1L277.2 55.2L277.4 51.2L277.6 48.3L277.7 46.6L277.9 46.1L278.1 47.0L278.3 49.1L278.5 52.3L278.7 56.6L278.9 61.9L279.1 67.8L279.3 74.1L279.5 80.8L279.7 87.4L279.9 93.8L280.1 99.7L280.2 105.0L280.4 109.3L280.6 112.6L280.8 114.8L281.0 115.6L281.2 115.3L281.4 113.6L281.6 110.8L281.8 106.9L282.0 102.0L282.2 96.4L282.4 90.2L282.6 83.6L282.8 77.0L282.9 70.5L283.1 64.4L283.3 59.0L283.5 54.3L283.7 50.6L283.9 48.1L284.1 46.7L284.3 46.7L284.5 47.8L284.7 50.2L284.9 53.7L285.1 58.3L285.3 63.6L285.4 69.6L285.6 76.0L285.8 82.6L286.0 89.1L286.2 95.3L286.4 101.0L286.6 105.9L286.8 110.0L287.0 112.9L287.2 114.7L287.4 115.3L287.6 114.5L287.8 112.6L287.9 109.5L288.1 105.3L288.3 100.3L288.5 94.5L288.7 88.3L288.9 81.8L289.1 75.3L289.3 69.0L289.5 63.1L289.7 57.9L289.9 53.5L290.1 50.2L290.3 48.0L290.5 47.0L290.6 47.3L290.8 48.8L291.0 51.4L291.2 55.2L291.4 59.9L291.6 65.4L291.8 71.4L292.0 77.8L292.2 84.3L292.4 90.7L292.6 96.7L292.8 102.2L293.0 106.8L293.1 110.5L293.3 113.1L293.5 114.6L293.7 114.8L293.9 113.7L294.1 111.5L294.3 108.1L294.5 103.8L294.7 98.6L294.9 92.7L295.1 86.5L295.3 80.0L295.5 73.6L295.7 67.5L295.8 61.8L296.0 56.9L296.2 52.9L296.4 49.9L296.6 48.0L296.8 47.4L297.0 48.0L297.2 49.8L297.4 52.7L297.6 56.7L297.8 61.6L298.0 67.2L298.2 73.3L298.3 79.6L298.5 86.1L298.7 92.3L298.9 98.1L299.1 103.3L299.3 107.6L299.5 111.0L299.7 113.3L299.9 114.3L300.1 114.2L300.3 112.8L300.5 110.3L300.7 106.7L300.9 102.2L301.0 96.8L301.2 90.9L301.4 84.7L301.6 78.3L301.8 72.0L302.0 66.1L302.2 60.7L302.4 56.0L302.6 52.3L302.8 49.6L303.0 48.1L303.2 47.8L303.4 48.7L303.5 50.8L303.7 54.0L303.9 58.2L304.1 63.3L304.3 68.9L304.5 75.1L304.7 81.4L304.9 87.7L305.1 93.8L305.3 99.4L305.5 104.3L305.7 108.3L305.9 111.4L306.1 113.3L306.2 114.0L306.4 113.6L306.6 111.9L306.8 109.1L307.0 105.3L307.2 100.5L307.4 95.1L307.6 89.2L307.8 82.9L308.0 76.6L308.2 70.5L308.4 64.7L308.6 59.6L308.7 55.2L308.9 51.8L309.1 49.5L309.3 48.3L309.5 48.3L309.7 49.6L309.9 51.9L310.1 55.4L310.3 59.8L310.5 65.0L310.7 70.7L310.9 76.8L311.1 83.1L311.2 89.3L311.4 95.2L311.6 100.5L311.8 105.2L312.0 108.9L312.2 111.6L312.4 113.2L312.6 113.6L312.8 112.8L313.0 110.9L313.2 107.8L313.4 103.8L313.6 98.9L313.8 93.4L313.9 87.4L314.1 81.2L314.3 75.0L314.5 69.0L314.7 63.4L314.9 58.6L315.1 54.5L315.3 51.4L315.5 49.4L315.7 48.6L315.9 48.9L316.1 50.5L316.3 53.1L316.4 56.8L316.6 61.4L316.8 66.7L317.0 72.5L317.2 78.6L317.4 84.8L317.6 90.8L317.8 96.5L318.0 101.6L318.2 106.0L318.4 109.4L318.6 111.8L318.8 113.1L319.0 113.1L319.1 112.0L319.3 109.8L319.5 106.5L319.7 102.3L319.9 97.2L320.1 91.6L320.3 85.6L320.5 79.5L320.7 73.4L320.9 67.6L321.1 62.3L321.3 57.6L321.5 53.9L321.6 51.1L321.8 49.5L322.0 48.9L322.2 49.6L322.4 51.5L322.6 54.4L322.8 58.3L323.0 63.0L323.2 68.4L323.4 74.2L323.6 80.3L323.8 86.4L324.0 92.3L324.2 97.8L324.3 102.6L324.5 106.7L324.7 109.8L324.9 111.9L325.1 112.8L325.3 112.6L325.5 111.2L325.7 108.6L325.9 105.1L326.1 100.7L326.3 95.6L326.5 89.9L326.7 83.9L326.8 77.8L327.0 71.9L327.2 66.2L327.4 61.2L327.6 56.8L327.8 53.3L328.0 50.9L328.2 49.6L328.4 49.4L328.6 50.4L328.8 52.5L329.0 55.6L329.2 59.7L329.4 64.6L329.5 70.0L329.7 75.9L329.9 81.9L330.1 87.9L330.3 93.7L330.5 99.0L330.7 103.6L330.9 107.3L331.1 110.2L331.3 111.9L331.5 112.5L331.7 111.9L331.9 110.2L332.0 107.5L332.2 103.7L332.4 99.2L332.6 93.9L332.8 88.2L333.0 82.3L333.2 76.2L333.4 70.4L333.6 65.0L333.8 60.1L334.0 56.1L334.2 52.9L334.4 50.8L334.5 49.8L334.7 49.9L334.9 51.2L335.1 53.6L335.3 57.0L335.5 61.2L335.7 66.2L335.9 71.7L336.1 77.6L336.3 83.6L336.5 89.5L336.7 95.0L336.9 100.1L337.1 104.4L337.2 107.9L337.4 110.4L337.6 111.8L337.8 112.1L338.0 111.2L338.2 109.2L338.4 106.2L338.6 102.3L338.8 97.6L339.0 92.3L339.2 86.5L339.4 80.6L339.6 74.7L339.7 69.0L339.9 63.8L340.1 59.2L340.3 55.4L340.5 52.6L340.7 50.8L340.9 50.1L341.1 50.5L341.3 52.1L341.5 54.7L341.7 58.3L341.9 62.7L342.1 67.8L342.3 73.4L342.4 79.2L342.6 85.1L342.8 90.9L343.0 96.3L343.2 101.1L343.4 105.2L343.6 108.4" stroke="#f64a0c" stroke-width="1.35" stroke-dasharray="5.2 4.4" opacity="1"/>
</g>
<rect x="35.5" y="17.5" width="308.1" height="127.0" fill="none" stroke="#727272" stroke-width="0.85"/>
<path d="M66.31 144.5v-3.2M66.31 17.5v3.2M97.12 144.5v-3.2M97.12 17.5v3.2M127.93 144.5v-3.2M127.93 17.5v3.2M158.74 144.5v-3.2M158.74 17.5v3.2M189.55 144.5v-3.2M189.55 17.5v3.2M220.36 144.5v-3.2M220.36 17.5v3.2M251.17 144.5v-3.2M251.17 17.5v3.2M281.98 144.5v-3.2M281.98 17.5v3.2M312.79 144.5v-3.2M312.79 17.5v3.2M35.5 49.25h3.2M343.6 49.25h-3.2M35.5 81.00h3.2M343.6 81.00h-3.2M35.5 112.75h3.2M343.6 112.75h-3.2" stroke="#727272" stroke-width="0.85" fill="none"/>
<text class="tk" x="35.50" y="156.10" text-anchor="middle">0</text>
<text class="tk" x="66.31" y="156.10" text-anchor="middle">1</text>
<text class="tk" x="97.12" y="156.10" text-anchor="middle">2</text>
<text class="tk" x="127.93" y="156.10" text-anchor="middle">3</text>
<text class="tk" x="158.74" y="156.10" text-anchor="middle">4</text>
<text class="tk" x="189.55" y="156.10" text-anchor="middle">5</text>
<text class="tk" x="220.36" y="156.10" text-anchor="middle">6</text>
<text class="tk" x="251.17" y="156.10" text-anchor="middle">7</text>
<text class="tk" x="281.98" y="156.10" text-anchor="middle">8</text>
<text class="tk" x="312.79" y="156.10" text-anchor="middle">9</text>
<text class="tk" x="343.60" y="156.10" text-anchor="middle">10</text>
<text class="tk" x="32.10" y="21.10" text-anchor="end">2</text>
<text class="tk" x="32.10" y="52.85" text-anchor="end">1</text>
<text class="tk" x="32.10" y="84.60" text-anchor="end">0</text>
<text class="tk" x="32.10" y="116.35" text-anchor="end">-1</text>
<text class="tk" x="32.10" y="148.10" text-anchor="end">-2</text>
<rect x="219.4" y="6.5" width="132.6" height="31.0" fill="#fff" stroke="#5a5a5a" stroke-width="0.85"/>
<path d="M223.30 14.50H249.30" stroke="#0a76cf" stroke-width="0.85" opacity="0.85" fill="none"/>
<text class="lg" style="font-size:10.2px" x="251.90" y="18.55">Displacement sensor</text>
<path d="M223.30 29.20H249.30" stroke="#f64a0c" stroke-width="1.35" stroke-dasharray="5 5.4" fill="none"/>
<text class="lg" style="font-size:10.2px" x="251.90" y="33.25">Proposed method</text>
<text class="xl" x="190" y="168.50" text-anchor="middle">Time (s)</text>
<text class="yl" transform="translate(20.2 81.50) rotate(-90)" text-anchor="middle">Displacement (mm)</text>
<text class="cap" transform="translate(182.4 182.70) scale(0.92 1)" text-anchor="middle">(a)</text>
<clipPath id="cb"><rect x="35.5" y="198.9" width="308.1" height="127.5"/></clipPath>
<g clip-path="url(#cb)" fill="none" stroke-linejoin="round">
<path d="M35.5 317.2L35.7 313.4L35.9 307.8L36.1 300.5L36.3 291.7L36.5 281.9L36.7 271.3L36.8 260.5L37.0 249.6L37.2 239.3L37.4 229.8L37.6 221.5L37.8 214.6L38.0 209.5L38.2 206.4L38.4 205.3L38.6 206.3L38.8 209.3L39.0 214.3L39.2 221.0L39.4 229.2L39.5 238.6L39.7 248.9L39.9 259.6L40.1 270.4L40.3 280.9L40.5 290.7L40.7 299.5L40.9 306.8L41.1 312.6L41.3 316.4L41.5 318.2L41.7 318.0L41.9 315.7L42.0 311.5L42.2 305.4L42.4 297.8L42.6 288.8L42.8 278.9L43.0 268.3L43.2 257.5L43.4 246.9L43.6 236.9L43.8 227.8L44.0 219.9L44.2 213.6L44.4 209.1L44.6 206.5L44.7 206.0L44.9 207.5L45.1 211.1L45.3 216.5L45.5 223.5L45.7 232.0L45.9 241.6L46.1 251.9L46.3 262.6L46.5 273.2L46.7 283.5L46.9 292.9L47.1 301.2L47.2 308.0L47.4 313.2L47.6 316.5L47.8 317.7L48.0 317.0L48.2 314.2L48.4 309.5L48.6 303.0L48.8 295.1L49.0 285.9L49.2 275.9L49.4 265.3L49.6 254.7L49.7 244.3L49.9 234.6L50.1 225.9L50.3 218.5L50.5 212.8L50.7 208.8L50.9 206.8L51.1 206.9L51.3 208.9L51.5 212.9L51.7 218.7L51.9 226.1L52.1 234.8L52.3 244.5L52.4 254.9L52.6 265.5L52.8 275.9L53.0 285.9L53.2 294.9L53.4 302.7L53.6 309.1L53.8 313.7L54.0 316.4L54.2 317.1L54.4 315.8L54.6 312.5L54.8 307.3L54.9 300.5L55.1 292.3L55.3 283.0L55.5 272.9L55.7 262.4L55.9 251.9L56.1 241.8L56.3 232.5L56.5 224.2L56.7 217.3L56.9 212.1L57.1 208.7L57.3 207.3L57.5 207.9L57.6 210.4L57.8 214.9L58.0 221.1L58.2 228.8L58.4 237.7L58.6 247.5L58.8 257.8L59.0 268.3L59.2 278.5L59.4 288.1L59.6 296.8L59.8 304.1L60.0 310.0L60.1 314.0L60.3 316.1L60.5 316.3L60.7 314.4L60.9 310.7L61.1 305.1L61.3 298.0L61.5 289.5L61.7 280.1L61.9 270.0L62.1 259.6L62.3 249.3L62.5 239.4L62.7 230.4L62.8 222.6L63.0 216.3L63.2 211.6L63.4 208.7L63.6 207.9L63.8 209.0L64.0 212.1L64.2 217.0L64.4 223.5L64.6 231.5L64.8 240.6L65.0 250.4L65.2 260.7L65.3 271.0L65.5 281.0L65.7 290.3L65.9 298.5L66.1 305.4L66.3 310.7L66.5 314.2L66.7 315.7L66.9 315.3L67.1 313.0L67.3 308.8L67.5 302.8L67.7 295.4L67.9 286.7L68.0 277.2L68.2 267.1L68.4 256.8L68.6 246.7L68.8 237.2L69.0 228.6L69.2 221.2L69.4 215.3L69.6 211.2L69.8 208.9L70.0 208.6L70.2 210.3L70.4 213.8L70.5 219.1L70.7 226.0L70.9 234.2L71.1 243.4L71.3 253.3L71.5 263.5L71.7 273.7L71.9 283.4L72.1 292.3L72.3 300.1L72.5 306.5L72.7 311.2L72.9 314.2L73.0 315.2L73.2 314.3L73.4 311.4L73.6 306.8L73.8 300.5L74.0 292.8L74.2 283.9L74.4 274.3L74.6 264.2L74.8 254.1L75.0 244.2L75.2 235.0L75.4 226.8L75.6 219.9L75.7 214.6L75.9 211.0L76.1 209.3L76.3 209.5L76.5 211.6L76.7 215.6L76.9 221.3L77.1 228.5L77.3 236.9L77.5 246.3L77.7 256.2L77.9 266.3L78.1 276.2L78.2 285.6L78.4 294.2L78.6 301.5L78.8 307.4L79.0 311.6L79.2 314.0L79.4 314.5L79.6 313.1L79.8 309.8L80.0 304.7L80.2 298.1L80.4 290.1L80.6 281.1L80.8 271.5L80.9 261.4L81.1 251.5L81.3 241.9L81.5 233.0L81.7 225.2L81.9 218.8L82.1 214.0L82.3 210.9L82.5 209.8L82.7 210.5L82.9 213.1L83.1 217.6L83.3 223.6L83.4 231.1L83.6 239.7L83.8 249.1L84.0 258.9L84.2 268.9L84.4 278.6L84.6 287.7L84.8 295.9L85.0 302.8L85.2 308.2L85.4 311.9L85.6 313.7L85.8 313.7L86.0 311.8L86.1 308.0L86.3 302.5L86.5 295.6L86.7 287.4L86.9 278.3L87.1 268.7L87.3 258.7L87.5 248.9L87.7 239.6L87.9 231.1L88.1 223.8L88.3 217.9L88.5 213.6L88.6 211.0L88.8 210.4L89.0 211.6L89.2 214.7L89.4 219.6L89.6 226.0L89.8 233.7L90.0 242.4L90.2 251.9L90.4 261.7L90.6 271.5L90.8 281.0L91.0 289.8L91.2 297.5L91.3 303.9L91.5 308.8L91.7 312.0L91.9 313.3L92.1 312.8L92.3 310.3L92.5 306.1L92.7 300.3L92.9 293.1L93.1 284.8L93.3 275.6L93.5 265.9L93.7 256.1L93.8 246.5L94.0 237.5L94.2 229.4L94.4 222.5L94.6 217.1L94.8 213.3L95.0 211.3L95.2 211.2L95.4 212.9L95.6 216.4L95.8 221.7L96.0 228.3L96.2 236.3L96.3 245.1L96.5 254.6L96.7 264.4L96.9 274.0L97.1 283.2L97.3 291.6L97.5 299.0L97.7 304.9L97.9 309.3L98.1 311.9L98.3 312.7L98.5 311.7L98.7 308.8L98.9 304.2L99.0 298.1L99.2 290.6L99.4 282.1L99.6 272.8L99.8 263.2L100.0 253.5L100.2 244.2L100.4 235.5L100.6 227.8L100.8 221.3L101.0 216.4L101.2 213.1L101.4 211.7L101.5 212.0L101.7 214.3L101.9 218.2L102.1 223.8L102.3 230.8L102.5 238.9L102.7 247.9L102.9 257.3L103.1 267.0L103.3 276.4L103.5 285.3L103.7 293.4L103.9 300.3L104.1 305.8L104.2 309.6L104.4 311.7L104.6 312.0L104.8 310.5L105.0 307.2L105.2 302.2L105.4 295.7L105.6 288.0L105.8 279.4L106.0 270.1L106.2 260.6L106.4 251.1L106.6 242.0L106.7 233.6L106.9 226.3L107.1 220.3L107.3 215.9L107.5 213.1L107.7 212.2L107.9 213.1L108.1 215.7L108.3 220.1L108.5 226.0L108.7 233.2L108.9 241.5L109.1 250.5L109.3 260.0L109.4 269.5L109.6 278.7L109.8 287.3L110.0 295.0L110.2 301.5L110.4 306.5L110.6 309.8L110.8 311.4L111.0 311.2L111.2 309.2L111.4 305.4L111.6 300.1L111.8 293.4L111.9 285.5L112.1 276.7L112.3 267.5L112.5 258.0L112.7 248.7L112.9 239.9L113.1 231.9L113.3 225.0L113.5 219.5L113.7 215.5L113.9 213.3L114.1 212.8L114.3 214.2L114.5 217.3L114.6 222.1L114.8 228.3L115.0 235.7L115.2 244.1L115.4 253.2L115.6 262.6L115.8 271.9L116.0 280.9L116.2 289.2L116.4 296.5L116.6 302.5L116.8 307.0L117.0 309.9L117.1 311.0L117.3 310.3L117.5 307.8L117.7 303.6L117.9 297.9L118.1 291.0L118.3 282.9L118.5 274.1L118.7 264.8L118.9 255.5L119.1 246.4L119.3 237.9L119.5 230.2L119.6 223.8L119.8 218.7L120.0 215.3L120.2 213.6L120.4 213.6L120.6 215.4L120.8 219.0L121.0 224.1L121.2 230.6L121.4 238.2L121.6 246.8L121.8 255.8L122.0 265.1L122.2 274.3L122.3 283.0L122.5 291.0L122.7 297.8L122.9 303.4L123.1 307.4L123.3 309.8L123.5 310.4L123.7 309.2L123.9 306.3L124.1 301.7L124.3 295.7L124.5 288.5L124.7 280.3L124.8 271.5L125.0 262.3L125.2 253.1L125.4 244.2L125.6 236.0L125.8 228.7L126.0 222.7L126.2 218.2L126.4 215.2L126.6 214.0L126.8 214.5L127.0 216.8L127.2 220.7L127.4 226.2L127.5 232.9L127.7 240.8L127.9 249.4L128.1 258.4L128.3 267.6L128.5 276.6L128.7 285.0L128.9 292.6L129.1 299.0L129.3 304.1L129.5 307.7L129.7 309.5L129.9 309.6L130.0 308.0L130.2 304.7L130.4 299.8L130.6 293.5L130.8 286.1L131.0 277.8L131.2 268.9L131.4 259.8L131.6 250.7L131.8 242.1L132.0 234.2L132.2 227.4L132.4 221.8L132.6 217.7L132.7 215.3L132.9 214.5L133.1 215.5L133.3 218.2L133.5 222.5L133.7 228.3L133.9 235.3L134.1 243.3L134.3 251.9L134.5 260.9L134.7 270.0L134.9 278.7L135.1 286.9L135.2 294.1L135.4 300.1L135.6 304.7L135.8 307.8L136.0 309.2L136.2 308.8L136.4 306.7L136.6 303.0L136.8 297.8L137.0 291.2L137.2 283.6L137.4 275.2L137.6 266.4L137.8 257.3L137.9 248.5L138.1 240.1L138.3 232.6L138.5 226.2L138.7 221.0L138.9 217.4L139.1 215.4L139.3 215.2L139.5 216.6L139.7 219.8L139.9 224.4L140.1 230.5L140.3 237.7L140.4 245.8L140.6 254.5L140.8 263.4L141.0 272.3L141.2 280.8L141.4 288.6L141.6 295.5L141.8 301.1L142.0 305.2L142.2 307.8L142.4 308.7L142.6 307.8L142.8 305.3L142.9 301.2L143.1 295.7L143.3 288.9L143.5 281.2L143.7 272.7L143.9 263.9L144.1 255.0L144.3 246.3L144.5 238.3L144.7 231.1L144.9 225.1L145.1 220.4L145.3 217.2L145.5 215.8L145.6 216.0L145.8 217.9L146.0 221.4L146.2 226.4L146.4 232.7L146.6 240.1L146.8 248.3L147.0 257.0L147.2 265.8L147.4 274.5L147.6 282.8L147.8 290.3L148.0 296.7L148.1 301.9L148.3 305.6L148.5 307.6L148.7 308.1L148.9 306.8L149.1 303.9L149.3 299.4L149.5 293.6L149.7 286.6L149.9 278.7L150.1 270.2L150.3 261.4L150.5 252.7L150.7 244.3L150.8 236.5L151.0 229.7L151.2 224.1L151.4 219.9L151.6 217.2L151.8 216.2L152.0 216.9L152.2 219.2L152.4 223.1L152.6 228.4L152.8 235.0L153.0 242.5L153.2 250.7L153.3 259.4L153.5 268.2L153.7 276.7L153.9 284.7L154.1 291.8L154.3 297.8L154.5 302.5L154.7 305.8L154.9 307.4L155.1 307.3L155.3 305.6L155.5 302.3L155.7 297.5L155.9 291.4L156.0 284.2L156.2 276.2L156.4 267.8L156.6 259.1L156.8 250.5L157.0 242.3L157.2 234.9L157.4 228.5L157.6 223.3L157.8 219.5L158.0 217.3L158.2 216.8L158.4 217.9L158.5 220.6L158.7 224.9L158.9 230.5L159.1 237.2L159.3 244.9L159.5 253.2L159.7 261.8L159.9 270.4L160.1 278.7L160.3 286.4L160.5 293.2L160.7 298.8L160.9 303.1L161.1 305.8L161.2 307.0L161.4 306.5L161.6 304.3L161.8 300.6L162.0 295.5L162.2 289.2L162.4 281.9L162.6 273.8L162.8 265.3L163.0 256.7L163.2 248.3L163.4 240.5L163.6 233.4L163.7 227.3L163.9 222.6L164.1 219.3L164.3 217.5L164.5 217.4L164.7 219.0L164.9 222.1L165.1 226.7L165.3 232.6L165.5 239.5L165.7 247.3L165.9 255.6L166.1 264.2L166.2 272.6L166.4 280.7L166.6 288.0L166.8 294.4L167.0 299.7L167.2 303.5L167.4 305.8L167.6 306.5L167.8 305.5L168.0 303.0L168.2 298.9L168.4 293.5L168.6 287.0L168.8 279.5L168.9 271.4L169.1 263.0L169.3 254.5L169.5 246.3L169.7 238.7L169.9 232.0L170.1 226.3L170.3 222.0L170.5 219.2L170.7 217.9L170.9 218.2L171.1 220.2L171.3 223.7L171.4 228.6L171.6 234.7L171.8 241.8L172.0 249.7L172.2 258.0L172.4 266.4L172.6 274.7L172.8 282.5L173.0 289.6L173.2 295.6L173.4 300.4L173.6 303.8L173.8 305.6L174.0 305.8L174.1 304.5L174.3 301.5L174.5 297.2L174.7 291.5L174.9 284.7L175.1 277.2L175.3 269.0L175.5 260.7L175.7 252.3L175.9 244.4L176.1 237.1L176.3 230.7L176.5 225.5L176.6 221.6L176.8 219.2L177.0 218.4L177.2 219.1L177.4 221.5L177.6 225.3L177.8 230.5L178.0 236.9L178.2 244.1L178.4 252.0L178.6 260.3L178.8 268.6L179.0 276.7L179.2 284.3L179.3 291.0L179.5 296.6L179.7 301.0L179.9 303.9L180.1 305.3L180.3 305.1L180.5 303.3L180.7 300.0L180.9 295.3L181.1 289.4L181.3 282.5L181.5 274.8L181.7 266.7L181.8 258.4L182.0 250.3L182.2 242.5L182.4 235.5L182.6 229.5L182.8 224.7L183.0 221.3L183.2 219.3L183.4 218.9L183.6 220.1L183.8 222.9L184.0 227.1L184.2 232.5L184.4 239.1L184.5 246.4L184.7 254.4L184.9 262.6L185.1 270.8L185.3 278.7L185.5 285.9L185.7 292.3L185.9 297.5L186.1 301.4L186.3 303.9L186.5 304.9L186.7 304.2L186.9 302.1L187.0 298.4L187.2 293.4L187.4 287.3L187.6 280.2L187.8 272.5L188.0 264.4L188.2 256.2L188.4 248.3L188.6 240.8L188.8 234.1L189.0 228.5L189.2 224.1L189.4 221.1L189.6 219.6L189.7 219.6L189.9 221.2L190.1 224.4L190.3 228.8L190.5 234.6L190.7 241.3L190.9 248.7L191.1 256.7L191.3 264.8L191.5 272.9L191.7 280.5L191.9 287.4L192.1 293.4L192.2 298.3L192.4 301.8L192.6 303.8L192.8 304.3L193.0 303.3L193.2 300.7L193.4 296.7L193.6 291.5L193.8 285.2L194.0 278.0L194.2 270.2L194.4 262.2L194.6 254.1L194.7 246.3L194.9 239.2L195.1 232.8L195.3 227.6L195.5 223.6L195.7 221.0L195.9 219.9L196.1 220.4L196.3 222.4L196.5 225.9L196.7 230.7L196.9 236.6L197.1 243.5L197.3 251.0L197.4 258.9L197.6 267.0L197.8 274.8L198.0 282.2L198.2 288.8L198.4 294.5L198.6 298.9L198.8 302.0L199.0 303.6L199.2 303.7L199.4 302.2L199.6 299.3L199.8 295.0L199.9 289.5L200.1 283.0L200.3 275.7L200.5 268.0L200.7 260.0L200.9 252.1L201.1 244.5L201.3 237.6L201.5 231.7L201.7 226.8L201.9 223.2L202.1 221.1L202.3 220.4L202.5 221.3L202.6 223.7L202.8 227.5L203.0 232.6L203.2 238.7L203.4 245.7L203.6 253.3L203.8 261.2L204.0 269.1L204.2 276.7L204.4 283.8L204.6 290.1L204.8 295.4L205.0 299.4L205.1 302.1L205.3 303.3L205.5 302.9L205.7 301.1L205.9 297.8L206.1 293.3L206.3 287.5L206.5 280.9L206.7 273.5L206.9 265.7L207.1 257.8L207.3 250.1L207.5 242.8L207.7 236.2L207.8 230.6L208.0 226.1L208.2 223.0L208.4 221.2L208.6 221.0L208.8 222.3L209.0 225.1L209.2 229.2L209.4 234.5L209.6 240.8L209.8 247.9L210.0 255.5L210.2 263.3L210.3 271.1L210.5 278.5L210.7 285.4L210.9 291.3L211.1 296.2L211.3 299.9L211.5 302.1L211.7 302.8L211.9 302.1L212.1 299.9L212.3 296.3L212.5 291.4L212.7 285.5L212.9 278.7L213.0 271.3L213.2 263.6L213.4 255.8L213.6 248.2L213.8 241.2L214.0 234.9L214.2 229.6L214.4 225.6L214.6 222.8L214.8 221.5L215.0 221.7L215.2 223.4L215.4 226.5L215.5 230.9L215.7 236.4L215.9 242.9L216.1 250.1L216.3 257.7L216.5 265.4L216.7 273.0L216.9 280.3L217.1 286.8L217.3 292.4L217.5 296.9L217.7 300.1L217.9 302.0L218.0 302.3L218.2 301.2L218.4 298.6L218.6 294.7L218.8 289.6L219.0 283.4L219.2 276.5L219.4 269.1L219.6 261.4L219.8 253.8L220.0 246.4L220.2 239.6L220.4 233.7L220.6 228.8L220.7 225.1L220.9 222.8L221.1 221.9L221.3 222.5L221.5 224.6L221.7 228.0L221.9 232.7L222.1 238.4L222.3 245.0L222.5 252.2L222.7 259.8L222.9 267.5L223.1 274.9L223.2 281.9L223.4 288.1L223.6 293.4L223.8 297.5L224.0 300.3L224.2 301.7L224.4 301.6L224.6 300.1L224.8 297.2L225.0 293.0L225.2 287.7L225.4 281.4L225.6 274.4L225.8 267.0L225.9 259.3L226.1 251.8L226.3 244.7L226.5 238.2L226.7 232.6L226.9 228.1L227.1 224.8L227.3 222.9L227.5 222.4L227.7 223.4L227.9 225.8L228.1 229.5L228.3 234.5L228.4 240.4L228.6 247.1L228.8 254.4L229.0 261.9L229.2 269.4L229.4 276.7L229.6 283.4L229.8 289.3L230.0 294.2L230.2 298.0L230.4 300.4L230.6 301.4L230.8 300.9L231.0 299.0L231.1 295.8L231.3 291.3L231.5 285.7L231.7 279.3L231.9 272.3L232.1 264.8L232.3 257.3L232.5 250.0L232.7 243.1L232.9 236.9L233.1 231.6L233.3 227.5L233.5 224.6L233.6 223.1L233.8 223.0L234.0 224.4L234.2 227.1L234.4 231.2L234.6 236.3L234.8 242.4L235.0 249.2L235.2 256.5L235.4 264.0L235.6 271.4L235.8 278.4L236.0 284.8L236.2 290.4L236.3 295.0L236.5 298.3L236.7 300.3L236.9 300.9L237.1 300.1L237.3 297.8L237.5 294.3L237.7 289.5L237.9 283.8L238.1 277.3L238.3 270.2L238.5 262.8L238.7 255.4L238.8 248.2L239.0 241.6L239.2 235.7L239.4 230.8L239.6 227.0L239.8 224.5L240.0 223.4L240.2 223.7L240.4 225.5L240.6 228.5L240.8 232.8L241.0 238.2L241.2 244.4L241.3 251.3L241.5 258.6L241.7 266.0L241.9 273.2L242.1 280.0L242.3 286.2L242.5 291.4L242.7 295.6L242.9 298.5L243.1 300.1L243.3 300.3L243.5 299.1L243.7 296.5L243.9 292.7L244.0 287.7L244.2 281.8L244.4 275.2L244.6 268.1L244.8 260.8L245.0 253.5L245.2 246.5L245.4 240.1L245.6 234.6L245.8 230.0L246.0 226.6L246.2 224.5L246.4 223.8L246.5 224.5L246.7 226.6L246.9 230.0L247.1 234.5L247.3 240.1L247.5 246.4L247.7 253.4L247.9 260.6L248.1 267.9L248.3 274.9L248.5 281.5L248.7 287.4L248.9 292.3L249.1 296.1L249.2 298.7L249.4 299.9L249.6 299.7L249.8 298.1L250.0 295.2L250.2 291.1L250.4 285.9L250.6 279.9L250.8 273.2L251.0 266.0L251.2 258.8L251.4 251.7L251.6 244.9L251.7 238.8L251.9 233.6L252.1 229.4L252.3 226.4L252.5 224.7L252.7 224.3L252.9 225.4L253.1 227.8L253.3 231.5L253.5 236.3L253.7 242.0L253.9 248.5L254.1 255.4L254.3 262.6L254.4 269.8L254.6 276.6L254.8 283.0L255.0 288.5L255.2 293.1L255.4 296.5L255.6 298.7L255.8 299.5L256.0 298.9L256.2 297.0L256.4 293.8L256.6 289.4L256.8 284.1L256.9 277.9L257.1 271.1L257.3 264.0L257.5 256.9L257.7 249.9L257.9 243.4L258.1 237.6L258.3 232.7L258.5 228.8L258.7 226.2L258.9 224.9L259.1 225.0L259.3 226.4L259.5 229.1L259.6 233.1L259.8 238.1L260.0 243.9L260.2 250.5L260.4 257.4L260.6 264.5L260.8 271.6L261.0 278.2L261.2 284.3L261.4 289.5L261.6 293.8L261.8 296.8L262.0 298.6L262.1 299.0L262.3 298.1L262.5 295.8L262.7 292.3L262.9 287.7L263.1 282.2L263.3 275.9L263.5 269.1L263.7 262.1L263.9 255.0L264.1 248.2L264.3 242.0L264.5 236.4L264.6 231.9L264.8 228.4L265.0 226.1L265.2 225.2L265.4 225.7L265.6 227.4L265.8 230.5L266.0 234.7L266.2 239.9L266.4 245.9L266.6 252.5L266.8 259.4L267.0 266.4L267.2 273.3L267.3 279.7L267.5 285.5L267.7 290.4L267.9 294.3L268.1 297.0L268.3 298.4L268.5 298.5L268.7 297.2L268.9 294.6L269.1 290.8L269.3 286.0L269.5 280.3L269.7 273.9L269.8 267.1L270.0 260.2L270.2 253.2L270.4 246.7L270.6 240.6L270.8 235.4L271.0 231.2L271.2 228.1L271.4 226.2L271.6 225.7L271.8 226.4L272.0 228.5L272.2 231.9L272.4 236.3L272.5 241.7L272.7 247.8L272.9 254.4L273.1 261.3L273.3 268.3L273.5 274.9L273.7 281.2L273.9 286.7L274.1 291.3L274.3 294.8L274.5 297.1L274.7 298.1L274.9 297.8L275.0 296.2L275.2 293.3L275.4 289.3L275.6 284.3L275.8 278.4L276.0 272.0L276.2 265.2L276.4 258.3L276.6 251.5L276.8 245.2L277.0 239.4L277.2 234.5L277.4 230.6L277.6 227.8L277.7 226.4L277.9 226.2L278.1 227.3L278.3 229.7L278.5 233.3L278.7 238.0L278.9 243.5L279.1 249.7L279.3 256.4L279.5 263.2L279.7 270.0L279.9 276.5L280.1 282.5L280.2 287.7L280.4 292.0L280.6 295.1L280.8 297.1L281.0 297.7L281.2 297.1L281.4 295.1L281.6 291.9L281.8 287.7L282.0 282.5L282.2 276.5L282.4 270.1L282.6 263.3L282.8 256.5L282.9 249.9L283.1 243.7L283.3 238.3L283.5 233.7L283.7 230.1L283.9 227.7L284.1 226.6L284.3 226.8L284.5 228.3L284.7 231.0L284.9 234.8L285.1 239.7L285.3 245.4L285.4 251.6L285.6 258.3L285.8 265.1L286.0 271.7L286.2 278.0L286.4 283.7L286.6 288.6L286.8 292.6L287.0 295.4L287.2 296.9L287.4 297.2L287.6 296.2L287.8 294.0L287.9 290.5L288.1 286.1L288.3 280.7L288.5 274.7L288.7 268.2L288.9 261.4L289.1 254.7L289.3 248.3L289.5 242.4L289.7 237.2L289.9 232.9L290.1 229.7L290.3 227.7L290.5 227.0L290.6 227.5L290.8 229.3L291.0 232.3L291.2 236.4L291.4 241.4L291.6 247.2L291.8 253.5L292.0 260.2L292.2 266.8L292.4 273.4L292.6 279.4L292.8 284.9L293.0 289.5L293.1 293.1L293.3 295.5L293.5 296.7L293.7 296.7L293.9 295.3L294.1 292.8L294.3 289.1L294.5 284.4L294.7 278.9L294.9 272.8L295.1 266.3L295.3 259.6L295.5 253.1L295.7 246.8L295.8 241.2L296.0 236.3L296.2 232.3L296.4 229.4L296.6 227.8L296.8 227.4L297.0 228.3L297.2 230.4L297.4 233.7L297.6 238.0L297.8 243.2L298.0 249.0L298.2 255.4L298.3 262.0L298.5 268.6L298.7 274.9L298.9 280.8L299.1 285.9L299.3 290.2L299.5 293.5L299.7 295.6L299.9 296.4L300.1 296.0L300.3 294.4L300.5 291.5L300.7 287.6L300.9 282.7L301.0 277.1L301.2 270.9L301.4 264.4L301.6 257.9L301.8 251.4L302.0 245.4L302.2 240.0L302.4 235.4L302.6 231.8L302.8 229.3L303.0 228.0L303.2 227.9L303.4 229.1L303.5 231.5L303.7 235.1L303.9 239.6L304.1 244.9L304.3 250.9L304.5 257.2L304.7 263.8L304.9 270.2L305.1 276.4L305.3 282.0L305.5 286.9L305.7 290.9L305.9 293.8L306.1 295.5L306.2 296.0L306.4 295.3L306.6 293.3L306.8 290.2L307.0 286.0L307.2 281.0L307.4 275.3L307.6 269.1L307.8 262.6L308.0 256.1L308.2 249.9L308.4 244.1L308.6 238.9L308.7 234.6L308.9 231.3L309.1 229.2L309.3 228.2L309.5 228.5L309.7 230.1L309.9 232.8L310.1 236.5L310.3 241.2L310.5 246.7L310.7 252.7L310.9 259.1L311.1 265.5L311.2 271.8L311.4 277.8L311.6 283.2L311.8 287.8L312.0 291.4L312.2 294.0L312.4 295.4L312.6 295.5L312.8 294.5L313.0 292.2L313.2 288.8L313.4 284.5L313.6 279.3L313.8 273.5L313.9 267.3L314.1 260.9L314.3 254.5L314.5 248.4L314.7 242.8L314.9 238.0L315.1 234.0L315.3 231.0L315.5 229.2L315.7 228.6L315.9 229.2L316.1 231.1L316.3 234.0L316.4 238.0L316.6 242.9L316.8 248.4L317.0 254.5L317.2 260.8L317.4 267.2L317.6 273.4L317.8 279.1L318.0 284.3L318.2 288.6L318.4 291.9L318.6 294.1L318.8 295.1L319.0 295.0L319.1 293.6L319.3 291.0L319.5 287.4L319.7 282.9L319.9 277.6L320.1 271.7L320.3 265.5L320.5 259.1L320.7 252.9L320.9 247.0L321.1 241.7L321.3 237.1L321.5 233.4L321.6 230.8L321.8 229.3L322.0 229.1L322.2 230.0L322.4 232.1L322.6 235.3L322.8 239.5L323.0 244.6L323.2 250.2L323.4 256.3L323.6 262.6L323.8 268.8L324.0 274.9L324.2 280.4L324.3 285.2L324.5 289.2L324.7 292.2L324.9 294.1L325.1 294.8L325.3 294.3L325.5 292.6L325.7 289.8L325.9 286.0L326.1 281.3L326.3 275.8L326.5 269.9L326.7 263.7L326.8 257.5L327.0 251.4L327.2 245.7L327.4 240.6L327.6 236.3L327.8 232.9L328.0 230.6L328.2 229.5L328.4 229.6L328.6 230.8L328.8 233.2L329.0 236.7L329.2 241.1L329.4 246.2L329.5 252.0L329.7 258.1L329.9 264.3L330.1 270.4L330.3 276.3L330.5 281.6L330.7 286.1L330.9 289.8L331.1 292.5L331.3 294.0L331.5 294.4L331.7 293.6L331.9 291.6L332.0 288.5L332.2 284.5L332.4 279.6L332.6 274.1L332.8 268.2L333.0 262.0L333.2 255.8L333.4 249.9L333.6 244.4L333.8 239.6L334.0 235.6L334.2 232.5L334.4 230.6L334.5 229.8L334.7 230.2L334.9 231.8L335.1 234.4L335.3 238.1L335.5 242.7L335.7 247.9L335.9 253.7L336.1 259.8L336.3 265.9L336.5 271.9L336.7 277.6L336.9 282.6L337.1 286.9L337.2 290.3L337.4 292.7L337.6 293.9L337.8 293.9L338.0 292.8L338.2 290.5L338.4 287.2L338.6 283.0L338.8 278.0L339.0 272.4L339.2 266.4L339.4 260.3L339.6 254.3L339.7 248.5L339.9 243.3L340.1 238.7L340.3 235.0L340.5 232.3L340.7 230.6L340.9 230.2L341.1 230.9L341.3 232.7L341.5 235.6L341.7 239.5L341.9 244.2L342.1 249.6L342.3 255.4L342.4 261.5L342.6 267.5L342.8 273.4L343.0 278.8L343.2 283.6L343.4 287.7L343.6 290.7" stroke="#0a76cf" stroke-width="0.8" opacity="1"/>
<path d="M35.5 285.3L35.7 291.6L35.9 293.5L36.1 292.4L36.3 288.9L36.5 283.7L36.7 277.3L36.8 270.2L37.0 262.7L37.2 255.0L37.4 247.6L37.6 240.7L37.8 234.6L38.0 229.5L38.2 225.7L38.4 223.2L38.6 222.2L38.8 222.7L39.0 224.6L39.2 227.9L39.4 232.5L39.5 238.3L39.7 244.9L39.9 252.1L40.1 259.8L40.3 267.5L40.5 274.9L40.7 281.9L40.9 288.2L41.1 293.6L41.3 297.8L41.5 300.7L41.7 302.3L41.9 302.5L42.0 301.2L42.2 298.5L42.4 294.5L42.6 289.2L42.8 283.0L43.0 275.9L43.2 268.4L43.4 260.6L43.6 252.9L43.8 245.6L44.0 238.9L44.2 233.1L44.4 228.3L44.6 224.9L44.7 222.8L44.9 222.1L45.1 222.9L45.3 225.2L45.5 228.9L45.7 233.8L45.9 239.8L46.1 246.6L46.3 254.1L46.5 261.9L46.7 270.1L46.9 278.1L47.1 285.6L47.2 292.3L47.4 297.9L47.6 302.2L47.8 305.2L48.0 306.4L48.2 306.0L48.4 304.1L48.6 300.6L48.8 295.7L49.0 289.6L49.2 282.6L49.4 274.7L49.6 266.5L49.7 258.3L49.9 250.4L50.1 242.9L50.3 236.1L50.5 230.3L50.7 225.6L50.9 222.3L51.1 220.6L51.3 220.4L51.5 221.7L51.7 224.5L51.9 228.8L52.1 234.3L52.3 240.8L52.4 248.1L52.6 256.0L52.8 264.2L53.0 272.5L53.2 280.4L53.4 287.7L53.6 294.1L53.8 299.3L54.0 303.1L54.2 305.4L54.4 306.1L54.6 305.3L54.8 302.8L54.9 298.9L55.1 293.7L55.3 287.3L55.5 280.1L55.7 272.3L55.9 264.2L56.1 256.0L56.3 248.2L56.5 240.8L56.7 234.3L56.9 228.8L57.1 224.6L57.3 221.6L57.5 220.2L57.6 220.4L57.8 222.1L58.0 225.3L58.2 229.8L58.4 235.7L58.6 242.5L58.8 250.1L59.0 258.1L59.2 266.2L59.4 274.0L59.6 281.3L59.8 287.9L60.0 293.5L60.1 298.0L60.3 301.2L60.5 303.0L60.7 303.3L60.9 302.1L61.1 299.5L61.3 295.5L61.5 290.3L61.7 284.1L61.9 277.2L62.1 269.7L62.3 261.9L62.5 253.4L62.7 245.3L62.8 237.8L63.0 231.1L63.2 225.7L63.4 221.5L63.6 218.8L63.8 217.7L64.0 218.3L64.2 220.5L64.4 224.3L64.6 229.5L64.8 235.9L65.0 243.4L65.2 251.6L65.3 260.3L65.5 268.2L65.7 275.6L65.9 282.6L66.1 288.8L66.3 294.0L66.5 298.1L66.7 300.9L66.9 302.2L67.1 302.1L67.3 300.6L67.5 297.6L67.7 293.4L67.9 288.1L68.0 281.8L68.2 274.8L68.4 267.5L68.6 259.3L68.8 250.4L69.0 241.8L69.2 233.9L69.4 227.1L69.6 221.7L69.8 217.7L70.0 215.4L70.2 214.9L70.4 216.1L70.5 219.0L70.7 223.5L70.9 229.4L71.1 236.6L71.3 244.7L71.5 253.5L71.7 262.7L71.9 270.0L72.1 277.1L72.3 283.7L72.5 289.4L72.7 294.2L72.9 297.8L73.0 300.1L73.2 301.1L73.4 300.6L73.6 298.7L73.8 295.5L74.0 291.1L74.2 285.7L74.4 279.4L74.6 272.5L74.8 265.3L75.0 256.8L75.2 247.9L75.4 239.5L75.6 231.9L75.7 225.5L75.9 220.5L76.1 217.0L76.3 215.2L76.5 215.1L76.7 216.8L76.9 220.2L77.1 225.1L77.3 231.4L77.5 238.9L77.7 247.2L77.9 256.0L78.1 264.6L78.2 271.8L78.4 278.6L78.6 284.8L78.8 290.2L79.0 294.5L79.2 297.7L79.4 299.6L79.6 300.2L79.8 299.3L80.0 297.1L80.2 293.7L80.4 289.1L80.6 283.6L80.8 277.2L80.9 270.4L81.1 263.3L81.3 254.4L81.5 245.7L81.7 237.6L81.9 230.5L82.1 224.6L82.3 220.0L82.5 217.1L82.7 215.8L82.9 216.2L83.1 218.4L83.3 222.1L83.4 227.4L83.6 233.9L83.8 241.5L84.0 249.8L84.2 258.6L84.4 266.5L84.6 273.5L84.8 280.0L85.0 285.9L85.2 291.0L85.4 294.9L85.6 297.7L85.8 299.3L86.0 299.4L86.1 298.2L86.3 295.7L86.5 292.0L86.7 287.2L86.9 281.6L87.1 275.2L87.3 268.4L87.5 261.0L87.7 252.4L87.9 244.1L88.1 236.5L88.3 229.9L88.5 224.4L88.6 220.4L88.8 217.9L89.0 217.1L89.2 218.0L89.4 220.4L89.6 224.5L89.8 229.9L90.0 236.6L90.2 244.2L90.4 252.4L90.6 261.1L90.8 268.4L91.0 275.1L91.2 281.4L91.3 287.0L91.5 291.6L91.7 295.2L91.9 297.7L92.1 298.8L92.3 298.6L92.5 297.1L92.7 294.3L92.9 290.3L93.1 285.4L93.3 279.6L93.5 273.2L93.7 266.4L93.8 258.7L94.0 250.1L94.2 242.0L94.4 234.7L94.6 228.4L94.8 223.4L95.0 219.8L95.2 217.8L95.4 217.4L95.6 218.7L95.8 221.6L96.0 226.0L96.2 231.8L96.3 238.7L96.5 246.5L96.7 254.8L96.9 263.3L97.1 270.1L97.3 276.6L97.5 282.6L97.7 287.8L97.9 292.1L98.1 295.3L98.3 297.3L98.5 298.1L98.7 297.5L98.9 295.6L99.0 292.6L99.2 288.4L99.4 283.3L99.6 277.5L99.8 271.1L100.0 264.5L100.2 256.4L100.4 248.0L100.6 240.2L100.8 233.3L101.0 227.4L101.2 222.8L101.4 219.7L101.5 218.2L101.7 218.3L101.9 220.0L102.1 223.3L102.3 228.1L102.5 234.1L102.7 241.1L102.9 248.9L103.1 257.3L103.3 265.1L103.5 271.6L103.7 277.7L103.9 283.3L104.1 288.1L104.2 292.0L104.4 294.8L104.6 296.4L104.8 296.7L105.0 295.8L105.2 293.7L105.4 290.5L105.6 286.2L105.8 281.1L106.0 275.3L106.2 269.1L106.4 262.6L106.6 254.2L106.7 246.2L106.9 238.7L107.1 232.2L107.3 226.8L107.5 222.7L107.7 220.1L107.9 219.1L108.1 219.7L108.3 221.8L108.5 225.4L108.7 230.4L108.9 236.6L109.1 243.7L109.3 251.5L109.4 259.7L109.6 266.7L109.8 272.9L110.0 278.7L110.2 283.9L110.4 288.3L110.6 291.7L110.8 294.1L111.0 295.3L111.2 295.3L111.4 294.1L111.6 291.8L111.8 288.4L111.9 284.0L112.1 278.9L112.3 273.2L112.5 267.1L112.7 260.4L112.9 252.3L113.1 244.7L113.3 237.7L113.5 231.6L113.7 226.7L113.9 223.0L114.1 220.9L114.3 220.2L114.5 221.2L114.6 223.6L114.8 227.5L115.0 232.7L115.2 239.0L115.4 246.1L115.6 253.9L115.8 262.0L116.0 268.3L116.2 274.3L116.4 279.8L116.6 284.7L116.8 288.8L117.0 291.9L117.1 294.0L117.3 294.9L117.5 294.6L117.7 293.1L117.9 290.6L118.1 287.0L118.3 282.5L118.5 277.2L118.7 271.5L118.9 265.4L119.1 258.1L119.3 250.2L119.5 242.6L119.6 235.8L119.8 230.0L120.0 225.4L120.2 222.2L120.4 220.4L120.6 220.2L120.8 221.6L121.0 224.4L121.2 228.7L121.4 234.2L121.6 240.8L121.8 248.1L122.0 256.0L122.2 263.8L122.3 269.9L122.5 275.7L122.7 281.1L122.9 285.7L123.1 289.5L123.3 292.3L123.5 294.1L123.7 294.6L123.9 294.0L124.1 292.3L124.3 289.4L124.5 285.6L124.7 280.9L124.8 275.6L125.0 269.8L125.2 263.7L125.4 255.9L125.6 248.0L125.8 240.6L126.0 234.0L126.2 228.5L126.4 224.3L126.6 221.4L126.8 220.1L127.0 220.3L127.2 222.1L127.4 225.3L127.5 230.0L127.7 235.8L127.9 242.7L128.1 250.2L128.3 258.2L128.5 265.5L128.7 271.4L128.9 277.1L129.1 282.2L129.3 286.6L129.5 290.1L129.7 292.6L129.9 294.0L130.0 294.3L130.2 293.4L130.4 291.3L130.6 288.2L130.8 284.2L131.0 279.4L131.2 273.9L131.4 268.1L131.6 261.8L131.8 253.5L132.0 245.6L132.2 238.2L132.4 231.7L132.6 226.4L132.7 222.4L132.9 219.8L133.1 218.9L133.3 219.5L133.5 221.7L133.7 225.5L133.9 230.6L134.1 236.9L134.3 244.1L134.5 252.1L134.7 260.4L134.9 267.1L135.1 272.9L135.2 278.4L135.4 283.3L135.6 287.4L135.8 290.6L136.0 292.8L136.2 293.9L136.4 293.8L136.6 292.6L136.8 290.3L137.0 287.0L137.2 282.7L137.4 277.8L137.6 272.3L137.8 266.4L137.9 259.5L138.1 251.0L138.3 243.1L138.5 235.8L138.7 229.5L138.9 224.5L139.1 220.9L139.3 218.8L139.5 218.3L139.7 219.4L139.9 222.2L140.1 226.4L140.3 231.9L140.4 238.6L140.6 246.1L140.8 254.3L141.0 262.7L141.2 268.6L141.4 274.4L141.6 279.6L141.8 284.3L142.0 288.2L142.2 291.1L142.4 292.9L142.6 293.7L142.8 293.3L142.9 291.8L143.1 289.2L143.3 285.7L143.5 281.3L143.7 276.2L143.9 270.6L144.1 264.7L144.3 257.2L144.5 249.0L144.7 241.3L144.9 234.4L145.1 228.5L145.3 223.9L145.5 220.8L145.6 219.1L145.8 219.1L146.0 220.7L146.2 223.8L146.4 228.3L146.6 234.1L146.8 240.9L147.0 248.5L147.2 256.7L147.4 264.3L147.6 270.2L147.8 275.7L148.0 280.8L148.1 285.2L148.3 288.8L148.5 291.4L148.7 293.0L148.9 293.4L149.1 292.7L149.3 290.9L149.5 288.1L149.7 284.3L149.9 279.8L150.1 274.6L150.3 269.0L150.5 263.1L150.7 255.1L150.8 247.1L151.0 239.8L151.2 233.3L151.4 227.9L151.6 223.8L151.8 221.1L152.0 220.0L152.2 220.4L152.4 222.4L152.6 225.8L152.8 230.6L153.0 236.6L153.2 243.5L153.3 251.0L153.5 259.1L153.7 265.9L153.9 271.6L154.1 277.0L154.3 281.9L154.5 286.0L154.7 289.3L154.9 291.6L155.1 292.9L155.3 293.0L155.5 292.0L155.7 290.0L155.9 286.9L156.0 282.9L156.2 278.2L156.4 273.0L156.6 267.3L156.8 261.1L157.0 253.2L157.2 245.7L157.4 238.8L157.6 232.8L157.8 227.9L158.0 224.3L158.2 222.1L158.4 221.4L158.5 222.3L158.7 224.6L158.9 228.2L159.1 233.2L159.3 239.2L159.5 246.0L159.7 253.5L159.9 261.3L160.1 267.5L160.3 273.1L160.5 278.3L160.7 282.9L160.9 286.8L161.1 289.8L161.2 291.8L161.4 292.8L161.6 292.6L161.8 291.3L162.0 289.0L162.2 285.7L162.4 281.6L162.6 276.7L162.8 271.4L163.0 265.7L163.2 259.0L163.4 251.3L163.6 244.1L163.7 237.5L163.9 231.9L164.1 227.4L164.3 224.1L164.5 222.4L164.7 222.1L164.9 223.2L165.1 225.9L165.3 229.9L165.5 235.0L165.7 241.2L165.9 248.2L166.1 255.7L166.2 263.3L166.4 269.0L166.6 274.5L166.8 279.5L167.0 283.9L167.2 287.6L167.4 290.3L167.6 292.0L167.8 292.6L168.0 292.2L168.2 290.6L168.4 288.0L168.6 284.5L168.8 280.2L168.9 275.2L169.1 269.8L169.3 264.1L169.5 256.9L169.7 249.4L169.9 242.4L170.1 236.2L170.3 230.9L170.5 226.8L170.7 224.0L170.9 222.6L171.1 222.7L171.3 224.3L171.4 227.3L171.6 231.6L171.8 237.0L172.0 243.3L172.2 250.4L172.4 257.9L172.6 264.8L172.8 270.5L173.0 275.8L173.2 280.7L173.4 284.9L173.6 288.2L173.8 290.7L174.0 292.1L174.1 292.4L174.3 291.7L174.5 289.8L174.7 287.0L174.9 283.3L175.1 278.8L175.3 273.7L175.5 268.2L175.7 262.5L175.9 255.0L176.1 247.7L176.3 241.0L176.5 235.1L176.6 230.2L176.8 226.5L177.0 224.1L177.2 223.1L177.4 223.6L177.6 225.6L177.8 228.9L178.0 233.4L178.2 239.0L178.4 245.5L178.6 252.6L178.8 260.0L179.0 266.3L179.2 271.9L179.3 277.1L179.5 281.8L179.7 285.7L179.9 288.8L180.1 291.0L180.3 292.1L180.5 292.1L180.7 291.1L180.9 289.0L181.1 285.9L181.3 282.0L181.5 277.4L181.7 272.2L181.8 266.7L182.0 260.5L182.2 253.1L182.4 246.1L182.6 239.6L182.8 234.1L183.0 229.6L183.2 226.3L183.4 224.3L183.6 223.8L183.8 224.6L184.0 226.9L184.2 230.5L184.4 235.2L184.5 241.0L184.7 247.6L184.9 254.7L185.1 262.1L185.3 267.9L185.5 273.3L185.7 278.3L185.9 282.8L186.1 286.5L186.3 289.3L186.5 291.2L186.7 292.0L186.9 291.7L187.0 290.4L187.2 288.1L187.4 284.8L187.6 280.7L187.8 275.9L188.0 270.7L188.2 265.1L188.4 258.5L188.6 251.2L188.8 244.3L189.0 238.1L189.2 232.8L189.4 228.6L189.6 225.6L189.7 224.0L189.9 223.9L190.1 225.1L190.3 227.8L190.5 231.7L190.7 236.7L190.9 242.7L191.1 249.5L191.3 256.7L191.5 263.8L191.7 269.3L191.9 274.6L192.1 279.5L192.2 283.7L192.4 287.2L192.6 289.8L192.8 291.3L193.0 291.9L193.2 291.3L193.4 289.7L193.6 287.1L193.8 283.6L194.0 279.3L194.2 274.4L194.4 269.1L194.6 263.6L194.7 256.5L194.9 249.3L195.1 242.6L195.3 236.6L195.5 231.6L195.7 227.8L195.9 225.2L196.1 224.0L196.3 224.2L196.5 225.8L196.7 228.8L196.9 233.1L197.1 238.4L197.3 244.6L197.4 251.5L197.6 258.7L197.8 265.3L198.0 270.8L198.2 275.9L198.4 280.6L198.6 284.6L198.8 287.8L199.0 290.1L199.2 291.4L199.4 291.6L199.6 290.8L199.8 288.9L199.9 286.0L200.1 282.3L200.3 277.9L200.5 272.9L200.7 267.6L200.9 261.8L201.1 254.5L201.3 247.4L201.5 240.9L201.7 235.2L201.9 230.5L202.1 227.0L202.3 224.8L202.5 224.0L202.6 224.6L202.8 226.7L203.0 230.0L203.2 234.5L203.4 240.1L203.6 246.5L203.8 253.4L204.0 260.8L204.2 266.8L204.4 272.1L204.6 277.2L204.8 281.6L205.0 285.4L205.1 288.4L205.3 290.4L205.5 291.4L205.7 291.3L205.9 290.2L206.1 288.0L206.3 285.0L206.5 281.1L206.7 276.5L206.9 271.4L207.1 266.0L207.3 259.8L207.5 252.5L207.7 245.6L207.8 239.4L208.0 233.9L208.2 229.6L208.4 226.4L208.6 224.6L208.8 224.2L209.0 225.2L209.2 227.6L209.4 231.2L209.6 236.0L209.8 241.8L210.0 248.4L210.2 255.5L210.3 262.8L210.5 268.2L210.7 273.5L210.9 278.3L211.1 282.6L211.3 286.2L211.5 288.8L211.7 290.6L211.9 291.2L212.1 290.9L212.3 289.5L212.5 287.1L212.7 283.8L212.9 279.8L213.0 275.1L213.2 269.9L213.4 264.5L213.6 257.8L213.8 250.6L214.0 243.9L214.2 237.9L214.4 232.7L214.6 228.7L214.8 225.9L215.0 224.5L215.2 224.5L215.4 225.8L215.5 228.5L215.7 232.5L215.9 237.6L216.1 243.6L216.3 250.3L216.5 257.5L216.7 264.3L216.9 269.6L217.1 274.8L217.3 279.5L217.5 283.5L217.7 286.8L217.9 289.2L218.0 290.7L218.2 291.1L218.4 290.4L218.6 288.7L218.8 286.1L219.0 282.6L219.2 278.4L219.4 273.6L219.6 268.4L219.8 263.0L220.0 255.9L220.2 248.8L220.4 242.2L220.6 236.5L220.7 231.6L220.9 228.0L221.1 225.5L221.3 224.5L221.5 224.9L221.7 226.6L221.9 229.7L222.1 234.0L222.3 239.3L222.5 245.5L222.7 252.3L222.9 259.5L223.1 265.7L223.2 271.0L223.4 276.0L223.6 280.5L223.8 284.4L224.0 287.4L224.2 289.5L224.4 290.7L224.6 290.8L224.8 289.9L225.0 287.9L225.2 285.1L225.4 281.4L225.6 277.1L225.8 272.2L225.9 266.9L226.1 261.2L226.3 254.0L226.5 247.1L226.7 240.8L226.9 235.3L227.1 230.8L227.3 227.5L227.5 225.5L227.7 224.9L227.9 225.6L228.1 227.7L228.3 231.1L228.4 235.6L228.6 241.1L228.8 247.5L229.0 254.3L229.2 261.5L229.4 267.2L229.6 272.4L229.8 277.2L230.0 281.5L230.2 285.1L230.4 287.9L230.6 289.7L230.8 290.6L231.0 290.4L231.1 289.2L231.3 287.1L231.5 284.0L231.7 280.2L231.9 275.7L232.1 270.7L232.3 265.4L232.5 259.2L232.7 252.2L232.9 245.5L233.1 239.5L233.3 234.3L233.5 230.1L233.6 227.2L233.8 225.6L234.0 225.3L234.2 226.4L234.4 228.8L234.6 232.5L234.8 237.3L235.0 243.0L235.2 249.4L235.4 256.3L235.6 263.3L235.8 268.6L236.0 273.6L236.2 278.3L236.3 282.4L236.5 285.7L236.7 288.3L236.9 289.8L237.1 290.4L237.3 290.0L237.5 288.5L237.7 286.1L237.9 282.8L238.1 278.8L238.3 274.2L238.5 269.2L238.7 264.0L238.8 257.3L239.0 250.4L239.2 244.0L239.4 238.2L239.6 233.3L239.8 229.6L240.0 227.0L240.2 225.8L240.4 225.9L240.6 227.3L240.8 230.1L241.0 234.0L241.2 239.0L241.3 244.9L241.5 251.4L241.7 258.3L241.9 264.7L242.1 269.9L242.3 274.8L242.5 279.3L242.7 283.2L242.9 286.3L243.1 288.6L243.3 289.8L243.5 290.1L243.7 289.4L243.9 287.7L244.0 285.1L244.2 281.6L244.4 277.5L244.6 272.8L244.8 267.8L245.0 262.5L245.2 255.5L245.4 248.7L245.6 242.5L245.8 237.1L246.0 232.5L246.2 229.1L246.4 226.9L246.5 226.0L246.7 226.5L246.9 228.3L247.1 231.4L247.3 235.6L247.5 240.8L247.7 246.8L247.9 253.4L248.1 260.3L248.3 266.1L248.5 271.2L248.7 276.0L248.9 280.3L249.1 283.9L249.2 286.8L249.4 288.8L249.6 289.8L249.8 289.8L250.0 288.8L250.2 286.9L250.4 284.0L250.6 280.4L250.8 276.1L251.0 271.4L251.2 266.3L251.4 260.6L251.6 253.7L251.7 247.1L251.9 241.2L252.1 236.0L252.3 231.8L252.5 228.7L252.7 226.9L252.9 226.4L253.1 227.3L253.3 229.4L253.5 232.7L253.7 237.2L253.9 242.6L254.1 248.7L254.3 255.3L254.4 262.2L254.6 267.5L254.8 272.5L255.0 277.1L255.2 281.2L255.4 284.6L255.6 287.2L255.8 288.9L256.0 289.6L256.2 289.4L256.4 288.1L256.6 286.0L256.8 282.9L256.9 279.2L257.1 274.8L257.3 270.0L257.5 264.9L257.7 258.7L257.9 252.0L258.1 245.6L258.3 239.9L258.5 235.0L258.7 231.2L258.9 228.5L259.1 227.0L259.3 226.9L259.5 228.1L259.6 230.5L259.8 234.2L260.0 238.8L260.2 244.4L260.4 250.6L260.6 257.2L260.8 263.7L261.0 268.8L261.2 273.7L261.4 278.1L261.6 282.0L261.8 285.2L262.0 287.5L262.1 289.0L262.3 289.4L262.5 288.9L262.7 287.4L262.9 285.0L263.1 281.8L263.3 277.9L263.5 273.4L263.7 268.5L263.9 263.4L264.1 256.9L264.3 250.3L264.5 244.2L264.6 238.8L264.8 234.2L265.0 230.7L265.2 228.3L265.4 227.3L265.6 227.5L265.8 229.0L266.0 231.8L266.2 235.6L266.4 240.5L266.6 246.2L266.8 252.5L267.0 259.1L267.2 265.1L267.3 270.1L267.5 274.8L267.7 279.1L267.9 282.8L268.1 285.7L268.3 287.8L268.5 288.9L268.7 289.1L268.9 288.3L269.1 286.6L269.3 284.0L269.5 280.6L269.7 276.6L269.8 272.0L270.0 267.1L270.2 261.8L270.4 255.2L270.6 248.7L270.8 242.9L271.0 237.7L271.2 233.4L271.4 230.3L271.6 228.3L271.8 227.6L272.0 228.2L272.2 230.0L272.4 233.1L272.5 237.2L272.7 242.2L272.9 248.0L273.1 254.4L273.3 261.0L273.5 266.5L273.7 271.4L273.9 275.9L274.1 280.0L274.3 283.5L274.5 286.1L274.7 288.0L274.9 288.8L275.0 288.8L275.2 287.7L275.4 285.8L275.6 283.0L275.8 279.4L276.0 275.2L276.2 270.6L276.4 265.7L276.6 260.0L276.8 253.5L277.0 247.2L277.2 241.6L277.4 236.7L277.6 232.8L277.7 230.0L277.9 228.4L278.1 228.0L278.3 228.9L278.5 231.1L278.7 234.4L278.9 238.7L279.1 244.0L279.3 249.9L279.5 256.2L279.7 262.8L279.9 267.8L280.1 272.6L280.2 277.0L280.4 280.9L280.6 284.1L280.8 286.5L281.0 288.1L281.2 288.7L281.4 288.3L281.6 287.0L281.8 284.9L282.0 281.9L282.2 278.2L282.4 273.9L282.6 269.2L282.8 264.3L282.9 258.3L283.1 251.8L283.3 245.8L283.5 240.4L283.7 235.9L283.9 232.3L284.1 229.8L284.3 228.5L284.5 228.5L284.7 229.8L284.9 232.2L285.1 235.8L285.3 240.3L285.4 245.7L285.6 251.7L285.8 258.1L286.0 264.2L286.2 269.0L286.4 273.7L286.6 277.9L286.8 281.6L287.0 284.6L287.2 286.8L287.4 288.1L287.6 288.4L287.8 287.8L287.9 286.3L288.1 283.9L288.3 280.8L288.5 276.9L288.7 272.6L288.9 267.9L289.1 262.9L289.3 256.6L289.5 250.3L289.7 244.5L289.9 239.4L290.1 235.1L290.3 231.8L290.5 229.7L290.6 228.8L290.8 229.1L291.0 230.7L291.2 233.4L291.4 237.2L291.6 242.0L291.8 247.5L292.0 253.5L292.2 259.9L292.4 265.5L292.6 270.3L292.8 274.8L293.0 278.9L293.1 282.3L293.3 285.1L293.5 287.0L293.7 288.0L293.9 288.1L294.1 287.3L294.3 285.5L294.5 282.9L294.7 279.6L294.9 275.6L295.1 271.2L295.3 266.5L295.5 261.3L295.7 254.9L295.8 248.8L296.0 243.2L296.2 238.4L296.4 234.4L296.6 231.5L296.8 229.7L297.0 229.2L297.2 229.8L297.4 231.7L297.6 234.7L297.8 238.7L298.0 243.6L298.2 249.2L298.3 255.3L298.5 261.7L298.7 266.8L298.9 271.5L299.1 275.8L299.3 279.7L299.5 283.0L299.7 285.5L299.9 287.1L300.1 287.9L300.3 287.7L300.5 286.6L300.7 284.7L300.9 281.9L301.0 278.4L301.2 274.4L301.4 269.9L301.6 265.1L301.8 259.6L302.0 253.3L302.2 247.4L302.4 242.1L302.6 237.5L302.8 233.9L303.0 231.3L303.2 229.8L303.4 229.6L303.5 230.6L303.7 232.8L303.9 236.0L304.1 240.3L304.3 245.3L304.5 251.0L304.7 257.1L304.9 263.2L305.1 268.0L305.3 272.6L305.5 276.8L305.7 280.5L305.9 283.5L306.1 285.8L306.2 287.2L306.4 287.7L306.6 287.3L306.8 286.0L307.0 283.8L307.2 280.8L307.4 277.2L307.6 273.1L307.8 268.5L308.0 263.8L308.2 257.9L308.4 251.8L308.6 246.1L308.7 241.0L308.9 236.7L309.1 233.4L309.3 231.1L309.5 230.0L309.7 230.1L309.9 231.4L310.1 233.9L310.3 237.4L310.5 241.8L310.7 247.0L310.9 252.8L311.1 258.9L311.2 264.5L311.4 269.2L311.6 273.7L311.8 277.7L312.0 281.2L312.2 284.0L312.4 286.0L312.6 287.2L312.8 287.4L313.0 286.8L313.2 285.2L313.4 282.8L313.6 279.7L313.8 276.0L313.9 271.8L314.1 267.2L314.3 262.4L314.5 256.3L314.7 250.3L314.9 244.8L315.1 240.0L315.3 236.0L315.5 233.0L315.7 231.1L315.9 230.3L316.1 230.8L316.3 232.4L316.4 235.1L316.6 238.8L316.8 243.4L317.0 248.7L317.2 254.5L317.4 260.6L317.6 265.8L317.8 270.4L318.0 274.7L318.2 278.6L318.4 281.9L318.6 284.4L318.8 286.2L319.0 287.1L319.1 287.1L319.3 286.2L319.5 284.4L319.7 281.9L319.9 278.6L320.1 274.8L320.3 270.5L320.5 265.9L320.7 260.8L320.9 254.7L321.1 248.9L321.3 243.7L321.5 239.1L321.6 235.4L321.8 232.7L322.0 231.2L322.2 230.7L322.4 231.5L322.6 233.4L322.8 236.3L323.0 240.3L323.2 245.0L323.4 250.4L323.6 256.2L323.8 262.3L324.0 267.0L324.2 271.5L324.3 275.7L324.5 279.4L324.7 282.4L324.9 284.8L325.1 286.3L325.3 286.9L325.5 286.7L325.7 285.6L325.9 283.6L326.1 280.9L326.3 277.5L326.5 273.5L326.7 269.2L326.8 264.6L327.0 259.1L327.2 253.2L327.4 247.6L327.6 242.6L327.8 238.3L328.0 234.9L328.2 232.6L328.4 231.3L328.6 231.2L328.8 232.3L329.0 234.4L329.2 237.6L329.4 241.7L329.5 246.6L329.7 252.1L329.9 257.9L330.1 263.7L330.3 268.2L330.5 272.6L330.7 276.6L330.9 280.1L331.1 282.9L331.3 285.0L331.5 286.3L331.7 286.7L331.9 286.2L332.0 284.9L332.2 282.7L332.4 279.8L332.6 276.3L332.8 272.3L333.0 267.9L333.2 263.3L333.4 257.5L333.6 251.8L333.8 246.4L334.0 241.6L334.2 237.6L334.4 234.5L334.5 232.5L334.7 231.6L334.9 231.8L335.1 233.1L335.3 235.5L335.5 239.0L335.7 243.3L335.9 248.3L336.1 253.8L336.3 259.6L336.5 264.9L336.7 269.4L336.9 273.6L337.1 277.5L337.2 280.8L337.4 283.4L337.6 285.2L337.8 286.3L338.0 286.4L338.2 285.7L338.4 284.1L338.6 281.8L338.8 278.7L339.0 275.1L339.2 271.0L339.4 266.6L339.6 261.9L339.7 256.0L339.9 250.4L340.1 245.2L340.3 240.7L340.5 237.0L340.7 234.2L340.9 232.5L341.1 231.9L341.3 232.4L341.5 234.0L341.7 236.7L341.9 240.3L342.1 244.8L342.3 249.9L342.4 255.4L342.6 261.3L342.8 266.1L343.0 270.5L343.2 274.6L343.4 278.3L343.6 281.3" stroke="#f64a0c" stroke-width="1.5" stroke-dasharray="5.2 4.4" opacity="1"/>
</g>
<rect x="35.5" y="198.9" width="308.1" height="127.5" fill="none" stroke="#727272" stroke-width="0.85"/>
<path d="M66.31 326.4v-3.2M66.31 198.9v3.2M97.12 326.4v-3.2M97.12 198.9v3.2M127.93 326.4v-3.2M127.93 198.9v3.2M158.74 326.4v-3.2M158.74 198.9v3.2M189.55 326.4v-3.2M189.55 198.9v3.2M220.36 326.4v-3.2M220.36 198.9v3.2M251.17 326.4v-3.2M251.17 198.9v3.2M281.98 326.4v-3.2M281.98 198.9v3.2M312.79 326.4v-3.2M312.79 198.9v3.2M35.5 230.78h3.2M343.6 230.78h-3.2M35.5 262.65h3.2M343.6 262.65h-3.2M35.5 294.52h3.2M343.6 294.52h-3.2" stroke="#727272" stroke-width="0.85" fill="none"/>
<text class="tk" x="35.50" y="338.00" text-anchor="middle">0</text>
<text class="tk" x="66.31" y="338.00" text-anchor="middle">1</text>
<text class="tk" x="97.12" y="338.00" text-anchor="middle">2</text>
<text class="tk" x="127.93" y="338.00" text-anchor="middle">3</text>
<text class="tk" x="158.74" y="338.00" text-anchor="middle">4</text>
<text class="tk" x="189.55" y="338.00" text-anchor="middle">5</text>
<text class="tk" x="220.36" y="338.00" text-anchor="middle">6</text>
<text class="tk" x="251.17" y="338.00" text-anchor="middle">7</text>
<text class="tk" x="281.98" y="338.00" text-anchor="middle">8</text>
<text class="tk" x="312.79" y="338.00" text-anchor="middle">9</text>
<text class="tk" x="343.60" y="338.00" text-anchor="middle">10</text>
<text class="tk" x="32.10" y="201.70" text-anchor="end">2</text>
<text class="tk" x="32.10" y="233.58" text-anchor="end">1</text>
<text class="tk" x="32.10" y="265.45" text-anchor="end">0</text>
<text class="tk" x="32.10" y="297.32" text-anchor="end">-1</text>
<text class="tk" x="32.10" y="329.20" text-anchor="end">-2</text>
<rect x="218.2" y="188.4" width="132.2" height="29.4" fill="#fff" stroke="#5a5a5a" stroke-width="0.85"/>
<path d="M222.10 196.30H247.60" stroke="#0a76cf" stroke-width="0.85" opacity="0.85" fill="none"/>
<text class="lg" style="font-size:10.3px" x="250.10" y="200.75">Displacement sensor</text>
<path d="M222.10 209.90H247.60" stroke="#f64a0c" stroke-width="1.35" stroke-dasharray="5 5.4" fill="none"/>
<text class="lg" style="font-size:10.3px" x="250.10" y="214.35">KLT</text>
<text class="xl" x="190" y="349.40" text-anchor="middle">Time (s)</text>
<text class="yl" transform="translate(20.2 261.75) rotate(-90)" text-anchor="middle">Displacement (mm)</text>
<text class="cap" transform="translate(182.4 363.60) scale(0.92 1)" text-anchor="middle">(b)</text>
<clipPath id="cc"><rect x="35.5" y="381.0" width="308.1" height="123.6"/></clipPath>
<g clip-path="url(#cc)" fill="none" stroke-linejoin="round">
<path d="M35.5 448.4L35.7 448.4L35.9 448.4L36.1 448.4L36.3 448.4L36.5 448.4L36.7 448.4L36.8 448.2L37.0 447.7L37.2 446.9L37.4 445.8L37.6 444.4L37.8 442.9L38.0 441.3L38.2 439.6L38.4 438.0L38.6 436.6L38.8 435.3L39.0 434.3L39.2 433.6L39.4 433.2L39.5 433.0L39.7 432.9L39.9 433.1L40.1 433.6L40.3 434.4L40.5 435.6L40.7 437.1L40.9 438.8L41.1 440.7L41.3 442.6L41.5 444.5L41.7 446.3L41.9 447.9L42.0 449.2L42.2 450.2L42.4 450.8L42.6 451.1L42.8 451.1L43.0 450.8L43.2 450.6L43.4 449.9L43.6 448.9L43.8 447.7L44.0 446.1L44.2 444.4L44.4 442.6L44.6 440.7L44.7 438.9L44.9 437.3L45.1 435.8L45.3 434.7L45.5 433.8L45.7 433.4L45.9 433.1L46.1 432.9L46.3 433.0L46.5 433.5L46.7 434.3L46.9 435.4L47.1 436.9L47.2 438.5L47.4 440.4L47.6 442.3L47.8 444.3L48.0 446.1L48.2 447.7L48.4 449.1L48.6 450.2L48.8 450.9L49.0 451.3L49.2 451.4L49.4 451.1L49.6 450.9L49.7 450.2L49.9 449.2L50.1 447.8L50.3 446.1L50.5 444.2L50.7 442.3L50.9 440.3L51.1 438.4L51.3 436.7L51.5 435.3L51.7 434.3L51.9 433.6L52.1 433.4L52.3 433.1L52.4 433.2L52.6 433.5L52.8 434.2L53.0 435.3L53.2 436.6L53.4 438.2L53.6 440.0L53.8 441.9L54.0 443.8L54.2 445.6L54.4 447.3L54.6 448.7L54.8 449.8L54.9 450.6L55.1 451.0L55.3 451.1L55.5 450.9L55.7 450.7L55.9 450.2L56.1 449.4L56.3 448.3L56.5 447.0L56.7 445.4L56.9 443.7L57.1 441.9L57.3 440.2L57.5 438.6L57.6 437.1L57.8 435.9L58.0 434.9L58.2 434.3L58.4 434.1L58.6 433.8L58.8 433.7L59.0 433.9L59.2 434.4L59.4 435.2L59.6 436.3L59.8 437.7L60.0 439.2L60.1 440.9L60.3 442.5L60.5 444.2L60.7 445.6L60.9 446.9L61.1 447.9L61.3 448.7L61.5 449.1L61.7 449.2L61.9 449.0L62.1 448.8L62.3 448.5L62.5 447.9L62.7 447.1L62.8 446.0L63.0 444.8L63.2 443.5L63.4 442.1L63.6 440.7L63.8 439.4L64.0 438.2L64.2 437.2L64.4 436.4L64.6 435.8L64.8 435.5L65.0 435.3L65.2 435.1L65.3 435.2L65.5 435.7L65.7 436.4L65.9 437.4L66.1 438.7L66.3 440.1L66.5 441.7L66.7 443.4L66.9 445.0L67.1 446.5L67.3 447.8L67.5 448.8L67.7 449.6L67.9 450.1L68.0 450.2L68.2 450.1L68.4 449.8L68.6 449.6L68.8 448.9L69.0 448.0L69.2 446.7L69.4 445.3L69.6 443.7L69.8 442.1L70.0 440.5L70.2 439.0L70.4 437.7L70.5 436.6L70.7 435.9L70.9 435.5L71.1 435.3L71.3 435.0L71.5 435.0L71.7 435.3L71.9 435.9L72.1 436.8L72.3 437.9L72.5 439.2L72.7 440.7L72.9 442.2L73.0 443.7L73.2 445.2L73.4 446.4L73.6 447.4L73.8 448.2L74.0 448.6L74.2 448.8L74.4 448.7L74.6 448.4L74.8 448.2L75.0 447.8L75.2 447.2L75.4 446.3L75.6 445.2L75.7 444.1L75.9 442.8L76.1 441.5L76.3 440.3L76.5 439.1L76.7 438.1L76.9 437.3L77.1 436.7L77.3 436.3L77.5 436.1L77.7 435.8L77.9 435.8L78.1 436.0L78.2 436.5L78.4 437.2L78.6 438.3L78.8 439.5L79.0 440.9L79.2 442.4L79.4 443.8L79.6 445.2L79.8 446.5L80.0 447.5L80.2 448.3L80.4 448.8L80.6 449.0L80.8 448.9L80.9 448.6L81.1 448.5L81.3 448.1L81.5 447.5L81.7 446.7L81.9 445.7L82.1 444.6L82.3 443.3L82.5 442.0L82.7 440.8L82.9 439.6L83.1 438.6L83.3 437.7L83.4 437.0L83.6 436.6L83.8 436.5L84.0 436.2L84.2 436.0L84.4 436.1L84.6 436.5L84.8 437.1L85.0 438.0L85.2 439.1L85.4 440.4L85.6 441.7L85.8 443.1L86.0 444.4L86.1 445.6L86.3 446.6L86.5 447.4L86.7 447.9L86.9 448.1L87.1 448.1L87.3 447.8L87.5 447.6L87.7 447.3L87.9 446.8L88.1 446.0L88.3 445.0L88.5 443.9L88.6 442.7L88.8 441.5L89.0 440.3L89.2 439.3L89.4 438.4L89.6 437.6L89.8 437.2L90.0 437.0L90.2 436.7L90.4 436.5L90.6 436.6L90.8 436.9L91.0 437.6L91.2 438.5L91.3 439.6L91.5 440.9L91.7 442.3L91.9 443.8L92.1 445.2L92.3 446.5L92.5 447.6L92.7 448.5L92.9 449.1L93.1 449.4L93.3 449.4L93.5 449.2L93.7 449.0L93.8 448.7L94.0 448.2L94.2 447.5L94.4 446.6L94.6 445.5L94.8 444.3L95.0 443.0L95.2 441.7L95.4 440.5L95.6 439.4L95.8 438.4L96.0 437.7L96.2 437.2L96.3 436.9L96.5 436.7L96.7 436.5L96.9 436.5L97.1 436.8L97.3 437.4L97.5 438.3L97.7 439.4L97.9 440.7L98.1 442.2L98.3 443.7L98.5 445.2L98.7 446.5L98.9 447.7L99.0 448.7L99.2 449.4L99.4 449.8L99.6 450.0L99.8 449.8L100.0 449.5L100.2 449.4L100.4 448.9L100.6 448.3L100.8 447.4L101.0 446.3L101.2 445.2L101.4 443.9L101.5 442.7L101.7 441.4L101.9 440.3L102.1 439.3L102.3 438.5L102.5 438.0L102.7 437.6L102.9 437.5L103.1 437.2L103.3 437.1L103.5 437.2L103.7 437.6L103.9 438.3L104.1 439.2L104.2 440.2L104.4 441.5L104.6 442.7L104.8 444.0L105.0 445.2L105.2 446.3L105.4 447.1L105.6 447.8L105.8 448.1L106.0 448.2L106.2 448.1L106.4 447.8L106.6 447.6L106.7 447.2L106.9 446.5L107.1 445.6L107.3 444.5L107.5 443.3L107.7 442.1L107.9 441.0L108.1 439.9L108.3 439.0L108.5 438.4L108.7 438.0L108.9 437.9L109.1 437.5L109.3 437.4L109.4 437.5L109.6 437.8L109.8 438.4L110.0 439.1L110.2 440.1L110.4 441.2L110.6 442.3L110.8 443.4L111.0 444.5L111.2 445.4L111.4 446.1L111.6 446.6L111.8 446.9L111.9 446.9L112.1 446.8L112.3 446.4L112.5 446.3L112.7 445.9L112.9 445.3L113.1 444.5L113.3 443.5L113.5 442.4L113.7 441.3L113.9 440.3L114.1 439.3L114.3 438.5L114.5 437.9L114.6 437.6L114.8 437.4L115.0 437.1L115.2 437.0L115.4 437.1L115.6 437.4L115.8 438.0L116.0 438.9L116.2 439.9L116.4 441.1L116.6 442.3L116.8 443.5L117.0 444.7L117.1 445.7L117.3 446.5L117.5 447.1L117.7 447.5L117.9 447.6L118.1 447.5L118.3 447.1L118.5 447.0L118.7 446.8L118.9 446.5L119.1 446.0L119.3 445.5L119.5 444.8L119.6 444.1L119.8 443.4L120.0 442.6L120.2 441.9L120.4 441.3L120.6 440.7L120.8 440.2L121.0 439.9L121.2 439.7L121.4 439.6L121.6 439.2L121.8 439.0L122.0 439.1L122.2 439.3L122.3 439.8L122.5 440.6L122.7 441.5L122.9 442.5L123.1 443.6L123.3 444.7L123.5 445.8L123.7 446.7L123.9 447.5L124.1 448.0L124.3 448.4L124.5 448.4L124.7 448.3L124.8 448.0L125.0 447.8L125.2 447.5L125.4 447.0L125.6 446.4L125.8 445.5L126.0 444.6L126.2 443.6L126.4 442.5L126.6 441.5L126.8 440.5L127.0 439.6L127.2 438.9L127.4 438.4L127.5 438.0L127.7 437.9L127.9 437.6L128.1 437.4L128.3 437.4L128.5 437.7L128.7 438.3L128.9 439.1L129.1 440.0L129.3 441.2L129.5 442.4L129.7 443.6L129.9 444.8L130.0 445.9L130.2 446.7L130.4 447.4L130.6 447.8L130.8 447.9L131.0 447.9L131.2 447.6L131.4 447.4L131.6 447.2L131.8 446.8L132.0 446.3L132.2 445.6L132.4 444.8L132.6 444.0L132.7 443.1L132.9 442.3L133.1 441.5L133.3 440.7L133.5 440.1L133.7 439.7L133.9 439.4L134.1 439.2L134.3 438.9L134.5 438.7L134.7 438.7L134.9 438.9L135.1 439.3L135.2 440.0L135.4 440.8L135.6 441.9L135.8 442.9L136.0 444.1L136.2 445.1L136.4 446.1L136.6 446.9L136.8 447.4L137.0 447.8L137.2 447.9L137.4 447.8L137.6 447.5L137.8 447.3L137.9 447.1L138.1 446.7L138.3 446.1L138.5 445.3L138.7 444.5L138.9 443.6L139.1 442.6L139.3 441.7L139.5 440.9L139.7 440.2L139.9 439.6L140.1 439.2L140.3 439.1L140.4 438.8L140.6 438.6L140.8 438.5L141.0 438.7L141.2 439.1L141.4 439.7L141.6 440.6L141.8 441.5L142.0 442.6L142.2 443.7L142.4 444.8L142.6 445.8L142.8 446.6L142.9 447.2L143.1 447.5L143.3 447.7L143.5 447.6L143.7 447.3L143.9 447.1L144.1 446.9L144.3 446.5L144.5 445.9L144.7 445.1L144.9 444.2L145.1 443.2L145.3 442.2L145.5 441.2L145.6 440.3L145.8 439.4L146.0 438.7L146.2 438.2L146.4 437.9L146.6 437.8L146.8 437.4L147.0 437.3L147.2 437.3L147.4 437.6L147.6 438.2L147.8 438.9L148.0 439.9L148.1 441.0L148.3 442.1L148.5 443.3L148.7 444.4L148.9 445.4L149.1 446.1L149.3 446.7L149.5 447.0L149.7 447.1L149.9 447.0L150.1 446.7L150.3 446.5L150.5 446.3L150.7 445.9L150.8 445.3L151.0 444.6L151.2 443.8L151.4 442.9L151.6 442.0L151.8 441.2L152.0 440.4L152.2 439.8L152.4 439.3L152.6 439.0L152.8 438.9L153.0 438.6L153.2 438.3L153.3 438.2L153.5 438.3L153.7 438.6L153.9 439.1L154.1 439.8L154.3 440.7L154.5 441.6L154.7 442.5L154.9 443.4L155.1 444.2L155.3 444.8L155.5 445.2L155.7 445.5L155.9 445.5L156.0 445.3L156.2 445.0L156.4 444.8L156.6 444.7L156.8 444.5L157.0 444.1L157.2 443.7L157.4 443.2L157.6 442.7L157.8 442.1L158.0 441.5L158.2 441.0L158.4 440.5L158.5 440.1L158.7 439.8L158.9 439.5L159.1 439.4L159.3 439.2L159.5 438.9L159.7 438.8L159.9 438.8L160.1 439.1L160.3 439.5L160.5 440.2L160.7 441.0L160.9 441.9L161.1 442.8L161.2 443.8L161.4 444.6L161.6 445.3L161.8 445.7L162.0 446.0L162.2 446.1L162.4 446.0L162.6 445.7L162.8 445.4L163.0 445.3L163.2 445.0L163.4 444.6L163.6 444.0L163.7 443.3L163.9 442.5L164.1 441.7L164.3 440.9L164.5 440.1L164.7 439.4L164.9 438.7L165.1 438.2L165.3 437.9L165.5 437.7L165.7 437.5L165.9 437.2L166.1 437.1L166.2 437.1L166.4 437.4L166.6 438.0L166.8 438.7L167.0 439.6L167.2 440.6L167.4 441.7L167.6 442.8L167.8 443.8L168.0 444.7L168.2 445.3L168.4 445.8L168.6 446.0L168.8 446.0L168.9 445.8L169.1 445.5L169.3 445.4L169.5 445.2L169.7 444.8L169.9 444.3L170.1 443.7L170.3 443.0L170.5 442.3L170.7 441.5L170.9 440.8L171.1 440.0L171.3 439.3L171.4 438.7L171.6 438.2L171.8 437.9L172.0 437.7L172.2 437.6L172.4 437.2L172.6 437.0L172.8 437.0L173.0 437.3L173.2 437.7L173.4 438.4L173.6 439.3L173.8 440.3L174.0 441.4L174.1 442.5L174.3 443.5L174.5 444.4L174.7 445.1L174.9 445.7L175.1 446.0L175.3 446.0L175.5 445.9L175.7 445.6L175.9 445.4L176.1 445.0L176.3 444.4L176.5 443.5L176.6 442.5L176.8 441.3L177.0 440.1L177.2 438.9L177.4 437.8L177.6 436.8L177.8 436.0L178.0 435.5L178.2 435.3L178.4 435.1L178.6 434.9L178.8 435.0L179.0 435.3L179.2 436.0L179.3 436.8L179.5 438.0L179.7 439.2L179.9 440.6L180.1 442.0L180.3 443.3L180.5 444.6L180.7 445.6L180.9 446.4L181.1 446.9L181.3 447.2L181.5 447.2L181.7 447.0L181.8 446.8L182.0 446.6L182.2 446.2L182.4 445.6L182.6 445.0L182.8 444.2L183.0 443.3L183.2 442.3L183.4 441.4L183.6 440.5L183.8 439.7L184.0 439.1L184.2 438.5L184.4 438.2L184.5 438.0L184.7 437.7L184.9 437.5L185.1 437.4L185.3 437.5L185.5 437.9L185.7 438.4L185.9 439.2L186.1 440.2L186.3 441.2L186.5 442.3L186.7 443.3L186.9 444.3L187.0 445.1L187.2 445.8L187.4 446.2L187.6 446.3L187.8 446.3L188.0 446.0L188.2 445.7L188.4 445.6L188.6 445.4L188.8 445.1L189.0 444.7L189.2 444.2L189.4 443.6L189.6 443.0L189.7 442.5L189.9 441.9L190.1 441.5L190.3 441.1L190.5 440.8L190.7 440.7L190.9 440.5L191.1 440.2L191.3 439.9L191.5 439.9L191.7 440.0L191.9 440.3L192.1 440.7L192.2 441.3L192.4 442.1L192.6 442.8L192.8 443.6L193.0 444.3L193.2 444.9L193.4 445.3L193.6 445.5L193.8 445.6L194.0 445.4L194.2 445.1L194.4 444.8L194.6 444.7L194.7 444.5L194.9 444.2L195.1 443.8L195.3 443.3L195.5 442.7L195.7 442.1L195.9 441.5L196.1 440.9L196.3 440.3L196.5 439.8L196.7 439.4L196.9 439.1L197.1 438.9L197.3 438.8L197.4 438.5L197.6 438.3L197.8 438.4L198.0 438.6L198.2 439.2L198.4 439.9L198.6 440.9L198.8 442.0L199.0 443.1L199.2 444.3L199.4 445.4L199.6 446.4L199.8 447.2L199.9 447.8L200.1 448.1L200.3 448.2L200.5 448.1L200.7 447.8L200.9 447.6L201.1 447.3L201.3 446.9L201.5 446.3L201.7 445.6L201.9 444.7L202.1 443.8L202.3 442.9L202.5 441.9L202.6 441.0L202.8 440.2L203.0 439.6L203.2 439.1L203.4 438.7L203.6 438.6L203.8 438.3L204.0 438.0L204.2 438.0L204.4 438.2L204.6 438.6L204.8 439.3L205.0 440.1L205.1 441.1L205.3 442.2L205.5 443.3L205.7 444.3L205.9 445.3L206.1 446.1L206.3 446.6L206.5 447.0L206.7 447.1L206.9 447.0L207.1 446.8L207.3 446.5L207.5 446.3L207.7 446.0L207.8 445.4L208.0 444.8L208.2 444.0L208.4 443.2L208.6 442.3L208.8 441.5L209.0 440.7L209.2 440.1L209.4 439.6L209.6 439.2L209.8 439.0L210.0 438.8L210.2 438.5L210.3 438.4L210.5 438.5L210.7 438.8L210.9 439.3L211.1 440.0L211.3 440.9L211.5 441.9L211.7 442.9L211.9 443.9L212.1 444.8L212.3 445.5L212.5 446.1L212.7 446.5L212.9 446.6L213.0 446.5L213.2 446.3L213.4 446.0L213.6 445.9L213.8 445.6L214.0 445.2L214.2 444.8L214.4 444.2L214.6 443.5L214.8 442.9L215.0 442.2L215.2 441.5L215.4 440.9L215.5 440.4L215.7 439.9L215.9 439.6L216.1 439.5L216.3 439.3L216.5 439.0L216.7 438.8L216.9 438.8L217.1 439.0L217.3 439.4L217.5 440.0L217.7 440.8L217.9 441.6L218.0 442.6L218.2 443.5L218.4 444.4L218.6 445.1L218.8 445.6L219.0 446.0L219.2 446.1L219.4 446.1L219.6 445.8L219.8 445.5L220.0 445.4L220.2 445.2L220.4 444.8L220.6 444.3L220.7 443.7L220.9 443.0L221.1 442.3L221.3 441.5L221.5 440.8L221.7 440.1L221.9 439.5L222.1 439.0L222.3 438.7L222.5 438.4L222.7 438.3L222.9 438.0L223.1 437.8L223.2 437.8L223.4 438.0L223.6 438.5L223.8 439.1L224.0 440.0L224.2 441.0L224.4 442.0L224.6 443.1L224.8 444.1L225.0 445.0L225.2 445.7L225.4 446.2L225.6 446.5L225.8 446.6L225.9 446.4L226.1 446.1L226.3 445.9L226.5 445.7L226.7 445.3L226.9 444.7L227.1 444.1L227.3 443.3L227.5 442.4L227.7 441.6L227.9 440.8L228.1 440.1L228.3 439.4L228.4 438.9L228.6 438.6L228.8 438.5L229.0 438.2L229.2 437.9L229.4 437.9L229.6 438.0L229.8 438.4L230.0 438.9L230.2 439.7L230.4 440.6L230.6 441.6L230.8 442.6L231.0 443.5L231.1 444.4L231.3 445.1L231.5 445.6L231.7 445.9L231.9 446.0L232.1 445.9L232.3 445.6L232.5 445.3L232.7 445.2L232.9 444.9L233.1 444.4L233.3 443.8L233.5 443.1L233.6 442.4L233.8 441.6L234.0 440.8L234.2 440.1L234.4 439.4L234.6 438.8L234.8 438.3L235.0 438.0L235.2 437.9L235.4 437.6L235.6 437.4L235.8 437.3L236.0 437.4L236.2 437.8L236.3 438.4L236.5 439.2L236.7 440.2L236.9 441.3L237.1 442.4L237.3 443.5L237.5 444.5L237.7 445.4L237.9 446.0L238.1 446.5L238.3 446.7L238.5 446.6L238.7 446.4L238.8 446.1L239.0 446.0L239.2 445.5L239.4 444.9L239.6 444.1L239.8 443.2L240.0 442.2L240.2 441.2L240.4 440.3L240.6 439.4L240.8 438.7L241.0 438.2L241.2 437.9L241.3 437.7L241.5 437.4L241.7 437.3L241.9 437.4L242.1 437.7L242.3 438.2L242.5 439.0L242.7 439.9L242.9 440.9L243.1 442.0L243.3 443.1L243.5 444.1L243.7 444.9L243.9 445.6L244.0 446.0L244.2 446.3L244.4 446.2L244.6 446.0L244.8 445.7L245.0 445.6L245.2 445.1L245.4 444.5L245.6 443.6L245.8 442.6L246.0 441.5L246.2 440.3L246.4 439.2L246.5 438.2L246.7 437.4L246.9 436.7L247.1 436.4L247.3 436.2L247.5 435.9L247.7 435.7L247.9 435.8L248.1 436.1L248.3 436.7L248.5 437.4L248.7 438.4L248.9 439.5L249.1 440.6L249.2 441.8L249.4 442.9L249.6 443.8L249.8 444.6L250.0 445.2L250.2 445.5L250.4 445.5L250.6 445.4L250.8 445.1L251.0 444.9L251.2 444.7L251.4 444.3L251.6 443.8L251.7 443.1L251.9 442.4L252.1 441.6L252.3 440.7L252.5 439.9L252.7 439.2L252.9 438.5L253.1 437.9L253.3 437.5L253.5 437.2L253.7 437.1L253.9 436.8L254.1 436.6L254.3 436.6L254.4 436.8L254.6 437.2L254.8 437.9L255.0 438.8L255.2 439.8L255.4 440.9L255.6 442.0L255.8 443.1L256.0 444.1L256.2 444.9L256.4 445.4L256.6 445.8L256.8 445.9L256.9 445.8L257.1 445.5L257.3 445.3L257.5 445.0L257.7 444.4L257.9 443.7L258.1 442.7L258.3 441.5L258.5 440.3L258.7 439.1L258.9 437.9L259.1 436.8L259.3 435.9L259.5 435.1L259.6 434.6L259.8 434.4L260.0 434.1L260.2 433.9L260.4 434.0L260.6 434.2L260.8 434.8L261.0 435.6L261.2 436.6L261.4 437.7L261.6 439.0L261.8 440.4L262.0 441.7L262.1 442.8L262.3 443.8L262.5 444.6L262.7 445.2L262.9 445.4L263.1 445.4L263.3 445.2L263.5 445.0L263.7 444.8L263.9 444.3L264.1 443.7L264.3 442.8L264.5 441.8L264.6 440.8L264.8 439.6L265.0 438.4L265.2 437.3L265.4 436.3L265.6 435.4L265.8 434.7L266.0 434.2L266.2 434.0L266.4 433.8L266.6 433.5L266.8 433.4L267.0 433.6L267.2 434.0L267.3 434.6L267.5 435.5L267.7 436.5L267.9 437.7L268.1 438.9L268.3 440.1L268.5 441.2L268.7 442.1L268.9 442.9L269.1 443.4L269.3 443.7L269.5 443.7L269.7 443.5L269.8 443.2L270.0 443.0L270.2 442.6L270.4 441.9L270.6 441.0L270.8 439.9L271.0 438.7L271.2 437.5L271.4 436.3L271.6 435.3L271.8 434.4L272.0 433.8L272.2 433.4L272.4 433.2L272.5 432.9L272.7 432.8L272.9 432.9L273.1 433.3L273.3 434.0L273.5 434.8L273.7 435.9L273.9 437.1L274.1 438.4L274.3 439.7L274.5 440.9L274.7 441.9L274.9 442.8L275.0 443.4L275.2 443.7L275.4 443.9L275.6 443.7L275.8 443.4L276.0 443.3L276.2 443.1L276.4 442.7L276.6 442.2L276.8 441.6L277.0 440.9L277.2 440.2L277.4 439.4L277.6 438.6L277.7 437.8L277.9 437.1L278.1 436.5L278.3 436.0L278.5 435.6L278.7 435.4L278.9 435.3L279.1 434.9L279.3 434.8L279.5 434.8L279.7 435.1L279.9 435.6L280.1 436.4L280.2 437.4L280.4 438.5L280.6 439.8L280.8 441.0L281.0 442.2L281.2 443.3L281.4 444.2L281.6 444.8L281.8 445.3L282.0 445.4L282.2 445.4L282.4 445.1L282.6 444.9L282.8 444.7L282.9 444.2L283.1 443.6L283.3 442.8L283.5 441.9L283.7 440.9L283.9 439.8L284.1 438.8L284.3 437.8L284.5 436.9L284.7 436.1L284.9 435.5L285.1 435.1L285.3 434.9L285.4 434.7L285.6 434.4L285.8 434.4L286.0 434.6L286.2 435.0L286.4 435.7L286.6 436.6L286.8 437.7L287.0 438.9L287.2 440.1L287.4 441.3L287.6 442.3L287.8 443.3L287.9 444.0L288.1 444.4L288.3 444.6L288.5 444.6L288.7 444.4L288.9 444.1L289.1 443.9L289.3 443.5L289.5 442.9L289.7 442.2L289.9 441.3L290.1 440.2L290.3 439.2L290.5 438.1L290.6 437.1L290.8 436.1L291.0 435.3L291.2 434.6L291.4 434.2L291.6 433.9L291.8 433.7L292.0 433.5L292.2 433.5L292.4 433.8L292.6 434.3L292.8 435.2L293.0 436.3L293.1 437.5L293.3 439.0L293.5 440.5L293.7 441.9L293.9 443.3L294.1 444.5L294.3 445.5L294.5 446.2L294.7 446.7L294.9 446.8L295.1 446.7L295.3 446.4L295.5 446.2L295.7 445.8L295.8 445.0L296.0 444.0L296.2 442.7L296.4 441.4L296.6 440.0L296.8 438.6L297.0 437.2L297.2 436.1L297.4 435.1L297.6 434.4L297.8 433.9L298.0 433.7L298.2 433.5L298.3 433.4L298.5 433.7L298.7 434.2L298.9 435.1L299.1 436.2L299.3 437.5L299.5 439.0L299.7 440.6L299.9 442.2L300.1 443.7L300.3 445.0L300.5 446.1L300.7 447.0L300.9 447.5L301.0 447.8L301.2 447.8L301.4 447.5L301.6 447.3L301.8 446.7L302.0 445.7L302.2 444.4L302.4 442.9L302.6 441.2L302.8 439.5L303.0 438.0L303.2 436.6L303.4 435.6L303.5 434.9L303.7 434.7L303.9 434.4L304.1 434.3L304.3 434.6L304.5 435.1L304.7 436.0L304.9 437.1L305.1 438.5L305.3 440.0L305.5 441.7L305.7 443.3L305.9 444.9L306.1 446.4L306.2 447.6L306.4 448.5L306.6 449.2L306.8 449.5L307.0 449.6L307.2 449.4L307.4 449.1L307.6 448.7L307.8 448.0L308.0 446.9L308.2 445.6L308.4 444.1L308.6 442.5L308.7 440.8L308.9 439.3L309.1 437.8L309.3 436.6L309.5 435.7L309.7 435.1L309.9 434.8L310.1 434.5L310.3 434.4L310.5 434.6L310.7 435.1L310.9 435.9L311.1 437.0L311.2 438.3L311.4 439.9L311.6 441.6L311.8 443.2L312.0 444.9L312.2 446.4L312.4 447.7L312.6 448.7L312.8 449.5L313.0 449.9L313.2 450.0L313.4 449.9L313.6 449.6L313.8 449.3L313.9 448.6L314.1 447.7L314.3 446.5L314.5 445.0L314.7 443.5L314.9 441.8L315.1 440.2L315.3 438.6L315.5 437.2L315.7 435.9L315.9 435.0L316.1 434.3L316.3 433.9L316.4 433.7L316.6 433.6L316.8 433.7L317.0 434.1L317.2 434.9L317.4 436.0L317.6 437.4L317.8 439.0L318.0 440.7L318.2 442.5L318.4 444.2L318.6 445.9L318.8 447.3L319.0 448.5L319.1 449.4L319.3 450.0L319.5 450.2L319.7 450.1L319.9 449.9L320.1 449.6L320.3 449.1L320.5 448.3L320.7 447.3L320.9 446.0L321.1 444.6L321.3 443.1L321.5 441.6L321.6 440.2L321.8 438.8L322.0 437.7L322.2 436.7L322.4 436.0L322.6 435.6L322.8 435.5L323.0 435.2L323.2 435.3L323.4 435.6L323.6 436.3L323.8 437.3L324.0 438.6L324.2 440.1L324.3 441.8L324.5 443.5L324.7 445.3L324.9 447.0L325.1 448.4L325.3 449.7L325.5 450.7L325.7 451.3L325.9 451.6L326.1 451.6L326.3 451.3L326.5 451.1L326.7 450.6L326.8 449.8L327.0 448.7L327.2 447.3L327.4 445.8L327.6 444.2L327.8 442.6L328.0 441.1L328.2 439.7L328.4 438.6L328.6 437.7L328.8 437.2L329.0 437.0L329.2 436.7L329.4 436.7L329.5 437.0L329.7 437.6L329.9 438.5L330.1 439.7L330.3 441.1L330.5 442.7L330.7 444.4L330.9 446.2L331.1 447.8L331.3 449.3L331.5 450.6L331.7 451.6L331.9 452.3L332.0 452.6L332.2 452.7L332.4 452.5L332.6 452.3L332.8 451.9L333.0 451.3L333.2 450.3L333.4 449.2L333.6 447.8L333.8 446.4L334.0 444.9L334.2 443.4L334.4 442.0L334.5 440.7L334.7 439.7L334.9 438.9L335.1 438.3L335.3 438.1L335.5 437.8L335.7 437.7L335.9 437.9L336.1 438.4L336.3 439.3L336.5 440.4L336.7 441.9L336.9 443.5L337.1 445.2L337.2 447.0L337.4 448.7L337.6 450.3L337.8 451.7L338.0 452.8L338.2 453.6L338.4 454.0L338.6 454.2L338.8 454.0L339.0 453.8L339.2 453.4L339.4 452.7L339.6 451.6L339.7 450.2L339.9 448.7L340.1 447.1L340.3 445.4L340.5 443.9L340.7 442.5L340.9 441.4L341.1 440.6L341.3 440.3L341.5 440.0L341.7 439.9L341.9 440.0L342.1 440.4L342.3 441.1L342.4 442.1L342.6 443.4L342.8 444.9L343.0 446.5L343.2 448.2L343.4 449.9L343.6 451.4" stroke="#0a76cf" stroke-width="0.85" opacity="0.95"/>
<path d="M35.5 448.9L35.7 445.4L35.9 442.9L36.1 440.8L36.3 436.2L36.5 429.3L36.7 423.1L36.8 418.6L37.0 414.9L37.2 411.8L37.4 409.3L37.6 407.5L37.8 406.4L38.0 406.0L38.2 407.0L38.4 409.7L38.6 414.0L38.8 419.8L39.0 426.7L39.2 434.3L39.4 442.3L39.5 450.2L39.7 457.6L39.9 464.2L40.1 469.6L40.3 473.5L40.5 475.7L40.7 476.1L40.9 475.4L41.1 473.8L41.3 471.4L41.5 468.2L41.7 464.3L41.9 459.8L42.0 455.4L42.2 451.9L42.4 448.6L42.6 442.9L42.8 435.0L43.0 427.9L43.2 422.3L43.4 417.7L43.6 413.8L43.8 410.6L44.0 408.2L44.2 406.7L44.4 406.1L44.6 406.7L44.7 409.6L44.9 414.5L45.1 421.3L45.3 429.5L45.5 438.7L45.7 448.5L45.9 458.4L46.1 467.8L46.3 476.2L46.5 483.3L46.7 488.6L46.9 491.8L47.1 492.9L47.2 492.2L47.4 490.4L47.6 487.6L47.8 483.7L48.0 478.9L48.2 473.4L48.4 468.0L48.6 463.6L48.8 458.7L49.0 450.8L49.2 441.7L49.4 434.0L49.6 428.0L49.7 422.8L49.9 418.6L50.1 415.3L50.3 413.1L50.5 412.0L50.7 412.3L50.9 414.9L51.1 419.7L51.3 426.5L51.5 434.9L51.7 444.6L51.9 454.9L52.1 465.4L52.3 475.5L52.4 484.7L52.6 492.5L52.8 498.5L53.0 502.4L53.2 504.0L53.4 503.6L53.6 502.1L53.8 499.5L54.0 495.8L54.2 491.3L54.4 486.0L54.6 480.2L54.8 474.9L54.9 470.3L55.1 464.5L55.3 455.8L55.5 446.8L55.7 439.3L55.9 433.2L56.1 428.0L56.3 423.6L56.5 420.2L56.7 417.8L56.9 416.5L57.1 416.3L57.3 417.7L57.5 420.5L57.6 424.7L57.8 430.0L58.0 436.2L58.2 442.9L58.4 449.8L58.6 456.5L58.8 462.7L59.0 468.1L59.2 472.4L59.4 475.3L59.6 476.7L59.8 476.7L60.0 475.8L60.1 474.3L60.3 472.1L60.5 469.3L60.7 466.0L60.9 462.4L61.1 459.1L61.3 456.8L61.5 453.9L61.7 448.3L61.9 441.6L62.1 436.1L62.3 431.8L62.5 428.3L62.7 425.3L62.8 423.0L63.0 421.2L63.2 420.2L63.4 419.9L63.6 421.2L63.8 424.5L64.0 429.5L64.2 436.2L64.4 444.0L64.6 452.6L64.8 461.6L65.0 470.5L65.2 478.9L65.3 486.2L65.5 492.1L65.7 496.3L65.9 498.6L66.1 499.0L66.3 498.0L66.5 495.9L66.7 492.9L66.9 488.8L67.1 484.0L67.3 478.7L67.5 473.8L67.7 469.8L67.9 464.3L68.0 456.0L68.2 447.6L68.4 440.9L68.6 435.4L68.8 430.8L69.0 427.0L69.2 424.2L69.4 422.4L69.6 421.8L69.8 422.6L70.0 425.2L70.2 429.6L70.4 435.5L70.5 442.6L70.7 450.5L70.9 458.8L71.1 467.0L71.3 474.9L71.5 481.9L71.7 487.6L71.9 491.9L72.1 494.4L72.3 495.0L72.5 494.4L72.7 492.9L72.9 490.5L73.0 487.4L73.2 483.5L73.4 479.1L73.6 474.6L73.8 470.8L74.0 467.4L74.2 461.9L74.4 454.3L74.6 447.1L74.8 441.4L75.0 436.8L75.2 432.8L75.4 429.5L75.6 427.0L75.7 425.4L75.9 424.6L76.1 424.9L76.3 426.6L76.5 429.6L76.7 433.8L76.9 438.9L77.1 444.8L77.3 451.0L77.5 457.3L77.7 463.3L77.9 468.8L78.1 473.4L78.2 476.9L78.4 479.1L78.6 479.9L78.8 479.6L79.0 478.5L79.2 476.8L79.4 474.4L79.6 471.4L79.8 467.9L80.0 464.3L80.2 461.3L80.4 459.0L80.6 455.3L80.8 449.0L80.9 442.6L81.1 437.7L81.3 433.7L81.5 430.4L81.7 427.6L81.9 425.4L82.1 423.9L82.3 423.1L82.5 423.2L82.7 424.8L82.9 428.0L83.1 432.7L83.3 438.7L83.4 445.5L83.6 452.8L83.8 460.4L84.0 467.7L84.2 474.4L84.4 480.2L84.6 484.7L84.8 487.7L85.0 489.1L85.2 488.9L85.4 487.8L85.6 485.7L85.8 482.7L86.0 478.9L86.1 474.6L86.3 470.0L86.5 466.1L86.7 462.7L86.9 457.1L87.1 449.2L87.3 442.2L87.5 436.8L87.7 432.2L87.9 428.4L88.1 425.4L88.3 423.3L88.5 422.1L88.6 421.8L88.8 423.0L89.0 425.7L89.2 429.8L89.4 435.1L89.6 441.3L89.8 448.0L90.0 455.0L90.2 461.8L90.4 468.2L90.6 473.7L90.8 478.1L91.0 481.2L91.2 482.8L91.3 482.9L91.5 482.1L91.7 480.6L91.9 478.4L92.1 475.6L92.3 472.2L92.5 468.5L92.7 465.0L92.9 462.4L93.1 459.4L93.3 454.0L93.5 447.3L93.7 441.6L93.8 437.2L94.0 433.5L94.2 430.4L94.4 427.9L94.6 426.1L94.8 424.9L95.0 424.6L95.2 425.4L95.4 427.7L95.6 431.4L95.8 436.4L96.0 442.3L96.2 448.8L96.3 455.6L96.5 462.4L96.7 468.8L96.9 474.5L97.1 479.1L97.3 482.5L97.5 484.4L97.7 484.8L97.9 484.2L98.1 482.9L98.3 480.9L98.5 478.2L98.7 474.9L98.9 471.2L99.0 467.5L99.2 464.6L99.4 461.9L99.6 457.2L99.8 450.5L100.0 444.5L100.2 439.8L100.4 435.9L100.6 432.7L100.8 430.0L101.0 428.0L101.2 426.7L101.4 426.1L101.5 426.7L101.7 428.9L101.9 432.8L102.1 438.2L102.3 444.7L102.5 452.1L102.7 459.9L102.9 467.8L103.1 475.3L103.3 482.0L103.5 487.6L103.7 491.9L103.9 494.5L104.1 495.3L104.2 494.7L104.4 492.9L104.6 489.9L104.8 486.0L105.0 481.1L105.2 475.7L105.4 470.7L105.6 466.5L105.8 460.4L106.0 451.7L106.2 443.7L106.4 437.4L106.6 432.2L106.7 427.9L106.9 424.6L107.1 422.3L107.3 421.3L107.5 421.4L107.7 423.1L107.9 426.0L108.1 430.2L108.3 435.3L108.5 441.2L108.7 447.5L108.9 453.9L109.1 460.0L109.3 465.5L109.4 470.2L109.6 473.8L109.8 476.2L110.0 477.1L110.2 476.8L110.4 475.6L110.6 473.5L110.8 470.7L111.0 467.2L111.2 463.2L111.4 459.1L111.6 455.9L111.8 452.7L111.9 447.1L112.1 439.9L112.3 433.8L112.5 429.0L112.7 425.0L112.9 421.7L113.1 419.1L113.3 417.3L113.5 416.4L113.7 416.4L113.9 417.7L114.1 420.5L114.3 424.5L114.5 429.5L114.6 435.4L114.8 441.7L115.0 448.2L115.2 454.5L115.4 460.3L115.6 465.2L115.8 469.2L116.0 471.8L116.2 473.0L116.4 472.9L116.6 472.2L116.8 470.7L117.0 468.7L117.1 466.1L117.3 462.9L117.5 459.4L117.7 455.7L117.9 452.4L118.1 449.8L118.3 446.4L118.5 441.0L118.7 434.7L118.9 429.2L119.1 424.7L119.3 421.0L119.5 417.7L119.6 415.0L119.8 412.8L120.0 411.2L120.2 410.3L120.4 410.1L120.6 411.3L120.8 414.7L121.0 420.0L121.2 426.8L121.4 435.0L121.6 444.0L121.8 453.3L122.0 462.6L122.2 471.2L122.3 478.8L122.5 485.0L122.7 489.4L122.9 491.8L123.1 492.2L123.3 491.4L123.5 489.8L123.7 487.3L123.9 484.1L124.1 480.2L124.3 475.7L124.5 470.9L124.7 466.6L124.8 462.8L125.0 457.9L125.2 450.9L125.4 443.4L125.6 437.2L125.8 432.0L126.0 427.5L126.2 423.7L126.4 420.6L126.6 418.3L126.8 416.8L127.0 416.2L127.2 416.9L127.4 419.6L127.5 424.1L127.7 430.2L127.9 437.6L128.1 446.0L128.3 454.8L128.5 463.6L128.7 472.0L128.9 479.5L129.1 485.8L129.3 490.4L129.5 493.2L129.7 494.1L129.9 493.5L130.0 492.1L130.2 489.7L130.4 486.4L130.6 482.4L130.8 477.8L131.0 472.8L131.2 467.9L131.4 463.6L131.6 458.8L131.8 451.9L132.0 444.0L132.2 437.1L132.4 431.3L132.6 426.4L132.7 422.1L132.9 418.6L133.1 415.9L133.3 414.1L133.5 413.2L133.7 413.4L133.9 415.2L134.1 418.5L134.3 423.3L134.5 429.2L134.7 436.0L134.9 443.2L135.1 450.6L135.2 457.8L135.4 464.3L135.6 469.8L135.8 474.0L136.0 476.8L136.2 478.0L136.4 477.8L136.6 476.8L136.8 475.1L137.0 472.7L137.2 469.7L137.4 466.2L137.6 462.5L137.8 459.1L137.9 456.3L138.1 452.6L138.3 446.7L138.5 440.5L138.7 435.4L138.9 431.3L139.1 427.8L139.3 424.9L139.5 422.6L139.7 421.0L139.9 420.1L140.1 420.0L140.3 421.2L140.4 423.9L140.6 427.8L140.8 432.8L141.0 438.6L141.2 444.9L141.4 451.4L141.6 457.8L141.8 463.7L142.0 468.8L142.2 472.8L142.4 475.6L142.6 477.0L142.8 477.0L142.9 476.2L143.1 474.7L143.3 472.5L143.5 469.7L143.7 466.3L143.9 462.6L144.1 459.1L144.3 456.3L144.5 453.0L144.7 447.7L144.9 441.5L145.1 436.2L145.3 432.0L145.5 428.5L145.6 425.4L145.8 423.0L146.0 421.3L146.2 420.2L146.4 419.9L146.6 420.8L146.8 423.2L147.0 427.0L147.2 431.9L147.4 437.7L147.6 444.1L147.8 450.9L148.0 457.5L148.1 463.7L148.3 469.2L148.5 473.7L148.7 476.8L148.9 478.6L149.1 478.9L149.3 478.2L149.5 476.8L149.7 474.6L149.9 471.7L150.1 468.2L150.3 464.4L150.5 460.8L150.7 457.9L150.8 454.0L151.0 448.0L151.2 441.9L151.4 437.0L151.6 433.0L151.8 429.6L152.0 426.9L152.2 424.8L152.4 423.5L152.6 423.0L152.8 423.6L153.0 425.5L153.2 428.6L153.3 432.8L153.5 437.9L153.7 443.7L153.9 449.7L154.1 455.7L154.3 461.4L154.5 466.5L154.7 470.7L154.9 473.8L155.1 475.7L155.3 476.2L155.5 475.7L155.7 474.6L155.9 472.7L156.0 470.3L156.2 467.3L156.4 463.8L156.6 460.3L156.8 457.2L157.0 454.3L157.2 450.1L157.4 444.3L157.6 438.8L157.8 434.4L158.0 430.8L158.2 427.7L158.4 425.1L158.5 423.1L158.7 421.8L158.9 421.2L159.1 421.5L159.3 423.1L159.5 426.0L159.7 430.0L159.9 435.0L160.1 440.6L160.3 446.7L160.5 452.8L160.7 458.7L160.9 464.0L161.1 468.5L161.2 471.9L161.4 474.1L161.6 474.9L161.8 474.7L162.0 473.7L162.2 472.0L162.4 469.8L162.6 467.0L162.8 463.7L163.0 460.2L163.2 457.0L163.4 454.2L163.6 450.5L163.7 445.1L163.9 439.6L164.1 435.1L164.3 431.4L164.5 428.2L164.7 425.5L164.9 423.5L165.1 422.0L165.3 421.3L165.5 421.3L165.7 422.6L165.9 425.3L166.1 429.2L166.2 434.2L166.4 439.9L166.6 446.1L166.8 452.4L167.0 458.6L167.2 464.2L167.4 469.1L167.6 472.9L167.8 475.5L168.0 476.7L168.2 476.6L168.4 475.9L168.6 474.5L168.8 472.6L168.9 470.1L169.1 467.1L169.3 463.8L169.5 460.4L169.7 457.4L169.9 454.6L170.1 450.6L170.3 445.2L170.5 440.1L170.7 435.8L170.9 432.3L171.1 429.2L171.3 426.6L171.4 424.6L171.6 423.1L171.8 422.2L172.0 422.0L172.2 422.9L172.4 425.3L172.6 429.0L172.8 433.8L173.0 439.5L173.2 445.7L173.4 452.2L173.6 458.6L173.8 464.6L174.0 469.8L174.1 474.0L174.3 477.1L174.5 478.7L174.7 478.9L174.9 478.1L175.1 476.3L175.3 473.8L175.5 470.5L175.7 466.5L175.9 462.3L176.1 458.6L176.3 454.8L176.5 449.3L176.6 442.8L176.8 437.3L177.0 432.9L177.2 429.1L177.4 426.1L177.6 423.8L177.8 422.5L178.0 422.0L178.2 422.6L178.4 424.5L178.6 427.5L178.8 431.6L179.0 436.5L179.2 441.9L179.3 447.5L179.5 453.2L179.7 458.5L179.9 463.2L180.1 467.0L180.3 469.8L180.5 471.5L180.7 471.8L180.9 471.3L181.1 470.2L181.3 468.5L181.5 466.2L181.7 463.4L181.8 460.1L182.0 456.8L182.2 453.9L182.4 451.0L182.6 447.0L182.8 441.8L183.0 437.0L183.2 433.0L183.4 429.7L183.6 426.9L183.8 424.6L184.0 422.8L184.2 421.7L184.4 421.2L184.5 421.5L184.7 423.2L184.9 426.0L185.1 429.9L185.3 434.7L185.5 440.0L185.7 445.8L185.9 451.5L186.1 457.0L186.3 462.0L186.5 466.1L186.7 469.2L186.9 471.2L187.0 471.8L187.2 471.5L187.4 470.4L187.6 468.6L187.8 466.2L188.0 463.2L188.2 459.8L188.4 456.3L188.6 453.2L188.8 449.9L189.0 445.2L189.2 439.8L189.4 435.1L189.6 431.3L189.7 428.1L189.9 425.4L190.1 423.3L190.3 421.9L190.5 421.2L190.7 421.4L190.9 422.6L191.1 425.1L191.3 428.6L191.5 432.9L191.7 437.9L191.9 443.2L192.1 448.6L192.2 453.8L192.4 458.6L192.6 462.7L192.8 465.8L193.0 467.9L193.2 468.7L193.4 468.6L193.6 467.8L193.8 466.5L194.0 464.7L194.2 462.4L194.4 459.7L194.6 456.8L194.7 454.0L194.9 451.6L195.1 448.6L195.3 444.3L195.5 439.8L195.7 436.1L195.9 433.0L196.1 430.3L196.3 428.1L196.5 426.3L196.7 425.1L196.9 424.4L197.1 424.3L197.3 425.6L197.4 428.3L197.6 432.3L197.8 437.4L198.0 443.4L198.2 449.9L198.4 456.6L198.6 463.1L198.8 469.1L199.0 474.4L199.2 478.5L199.4 481.4L199.6 482.8L199.8 482.9L199.9 482.1L200.1 480.6L200.3 478.4L200.5 475.6L200.7 472.3L200.9 468.6L201.1 464.8L201.3 461.3L201.5 457.5L201.7 452.5L201.9 447.0L202.1 442.2L202.3 438.1L202.5 434.6L202.6 431.6L202.8 429.2L203.0 427.5L203.2 426.4L203.4 426.1L203.6 426.8L203.8 428.5L204.0 431.2L204.2 434.7L204.4 438.9L204.6 443.6L204.8 448.4L205.0 453.2L205.1 457.7L205.3 461.7L205.5 464.9L205.7 467.2L205.9 468.5L206.1 468.7L206.3 468.2L206.5 467.1L206.7 465.4L206.9 463.2L207.1 460.6L207.3 457.6L207.5 454.7L207.7 452.1L207.8 449.0L208.0 444.7L208.2 440.3L208.4 436.7L208.6 433.7L208.8 431.2L209.0 429.1L209.2 427.5L209.4 426.5L209.6 426.1L209.8 426.7L210.0 428.6L210.2 431.9L210.3 436.3L210.5 441.7L210.7 447.7L210.9 454.0L211.1 460.3L211.3 466.2L211.5 471.6L211.7 476.0L211.9 479.2L212.1 481.2L212.3 481.7L212.5 481.3L212.7 480.1L212.9 478.1L213.0 475.6L213.2 472.4L213.4 468.8L213.6 464.9L213.8 461.1L214.0 457.4L214.2 452.9L214.4 447.6L214.6 442.5L214.8 438.1L215.0 434.3L215.2 431.1L215.4 428.4L215.5 426.3L215.7 424.9L215.9 424.3L216.1 424.5L216.3 426.0L216.5 428.7L216.7 432.4L216.9 437.0L217.1 442.2L217.3 447.8L217.5 453.5L217.7 458.9L217.9 463.8L218.0 468.0L218.2 471.2L218.4 473.2L218.6 474.0L218.8 473.8L219.0 472.9L219.2 471.4L219.4 469.3L219.6 466.7L219.8 463.7L220.0 460.4L220.2 457.1L220.4 453.9L220.6 450.2L220.7 445.7L220.9 441.2L221.1 437.3L221.3 434.0L221.5 431.0L221.7 428.6L221.9 426.7L222.1 425.4L222.3 424.7L222.5 424.7L222.7 425.6L222.9 427.6L223.1 430.5L223.2 434.2L223.4 438.5L223.6 443.1L223.8 447.8L224.0 452.4L224.2 456.6L224.4 460.2L224.6 463.1L224.8 465.0L225.0 465.9L225.2 465.8L225.4 465.1L225.6 463.8L225.8 461.8L225.9 459.4L226.1 456.5L226.3 453.4L226.5 450.4L226.7 447.4L226.9 443.7L227.1 439.4L227.3 435.3L227.5 431.8L227.7 428.9L227.9 426.4L228.1 424.4L228.3 423.0L228.4 422.2L228.6 422.0L228.8 422.8L229.0 424.7L229.2 427.6L229.4 431.4L229.6 435.8L229.8 440.6L230.0 445.7L230.2 450.6L230.4 455.2L230.6 459.2L230.8 462.4L231.0 464.6L231.1 465.8L231.3 465.9L231.5 465.4L231.7 464.5L231.9 463.0L232.1 461.2L232.3 458.9L232.5 456.4L232.7 453.8L232.9 451.3L233.1 448.8L233.3 445.5L233.5 441.7L233.6 438.4L233.8 435.5L234.0 433.1L234.2 431.0L234.4 429.3L234.6 428.1L234.8 427.3L235.0 427.0L235.2 427.7L235.4 429.6L235.6 432.7L235.8 436.8L236.0 441.8L236.2 447.3L236.3 453.1L236.5 458.9L236.7 464.3L236.9 469.1L237.1 473.1L237.3 476.0L237.5 477.6L237.7 478.0L237.9 477.4L238.1 476.0L238.3 473.7L238.5 470.8L238.7 467.3L238.8 463.4L239.0 459.5L239.2 455.5L239.4 450.8L239.6 445.6L239.8 440.8L240.0 436.7L240.2 433.2L240.4 430.3L240.6 428.1L240.8 426.7L241.0 426.1L241.2 426.4L241.3 427.8L241.5 430.0L241.7 433.1L241.9 436.8L242.1 440.9L242.3 445.3L242.5 449.7L242.7 453.9L242.9 457.7L243.1 460.8L243.3 463.2L243.5 464.6L243.7 465.0L243.9 464.7L244.0 463.7L244.2 462.1L244.4 460.0L244.6 457.5L244.8 454.6L245.0 451.7L245.2 448.9L245.4 445.5L245.6 441.4L245.8 437.7L246.0 434.5L246.2 431.8L246.4 429.6L246.5 427.8L246.7 426.7L246.9 426.2L247.1 426.3L247.3 427.4L247.5 429.3L247.7 432.0L247.9 435.3L248.1 439.1L248.3 443.1L248.5 447.2L248.7 451.1L248.9 454.7L249.1 457.7L249.2 460.0L249.4 461.4L249.6 462.0L249.8 461.8L250.0 461.1L250.2 460.1L250.4 458.6L250.6 456.8L250.8 454.6L251.0 452.3L251.2 450.0L251.4 447.8L251.6 445.2L251.7 442.0L251.9 438.8L252.1 436.0L252.3 433.6L252.5 431.6L252.7 429.9L252.9 428.5L253.1 427.6L253.3 427.1L253.5 427.1L253.7 427.9L253.9 429.5L254.1 431.8L254.3 434.8L254.4 438.2L254.6 441.9L254.8 445.6L255.0 449.3L255.2 452.7L255.4 455.6L255.6 457.8L255.8 459.4L256.0 460.1L256.2 460.0L256.4 459.5L256.6 458.5L256.8 457.1L256.9 455.3L257.1 453.2L257.3 450.9L257.5 448.7L257.7 446.5L257.9 443.8L258.1 440.6L258.3 437.7L258.5 435.2L258.7 433.0L258.9 431.2L259.1 429.7L259.3 428.7L259.5 428.1L259.6 428.0L259.8 428.6L260.0 430.1L260.2 432.4L260.4 435.3L260.6 438.7L260.8 442.4L261.0 446.3L261.2 450.1L261.4 453.7L261.6 456.7L261.8 459.2L262.0 460.9L262.1 461.8L262.3 461.9L262.5 461.5L262.7 460.7L262.9 459.5L263.1 457.9L263.3 456.0L263.5 453.8L263.7 451.6L263.9 449.5L264.1 447.3L264.3 444.5L264.5 441.5L264.6 438.7L264.8 436.3L265.0 434.3L265.2 432.5L265.4 431.1L265.6 430.1L265.8 429.4L266.0 429.2L266.2 429.6L266.4 430.7L266.6 432.5L266.8 434.9L267.0 437.8L267.2 441.1L267.3 444.4L267.5 447.8L267.7 450.9L267.9 453.7L268.1 456.0L268.3 457.7L268.5 458.6L268.7 458.9L268.9 458.5L269.1 457.5L269.3 456.1L269.5 454.3L269.7 452.1L269.8 449.6L270.0 447.2L270.2 444.7L270.4 441.7L270.6 438.4L270.8 435.3L271.0 432.7L271.2 430.5L271.4 428.7L271.6 427.4L271.8 426.5L272.0 426.1L272.2 426.4L272.4 427.6L272.5 429.5L272.7 432.2L272.9 435.5L273.1 439.1L273.3 442.9L273.5 446.8L273.7 450.5L273.9 453.7L274.1 456.5L274.3 458.5L274.5 459.7L274.7 460.1L274.9 459.9L275.0 459.4L275.2 458.5L275.4 457.4L275.6 455.9L275.8 454.3L276.0 452.4L276.2 450.6L276.4 448.8L276.6 446.8L276.8 444.5L277.0 441.9L277.2 439.6L277.4 437.6L277.6 435.8L277.7 434.3L277.9 433.0L278.1 432.1L278.3 431.4L278.5 431.1L278.7 431.2L278.9 432.1L279.1 433.7L279.3 436.1L279.5 439.0L279.7 442.4L279.9 446.0L280.1 449.6L280.2 453.1L280.4 456.4L280.6 459.1L280.8 461.2L281.0 462.6L281.2 463.2L281.4 463.1L281.6 462.5L281.8 461.6L282.0 460.3L282.2 458.7L282.4 456.8L282.6 454.8L282.8 452.6L282.9 450.5L283.1 448.2L283.3 445.5L283.5 442.7L283.7 440.2L283.9 438.1L284.1 436.2L284.3 434.7L284.5 433.4L284.7 432.6L284.9 432.1L285.1 432.0L285.3 432.7L285.4 434.0L285.6 436.1L285.8 438.7L286.0 441.8L286.2 445.1L286.4 448.5L286.6 451.8L286.8 454.9L287.0 457.6L287.2 459.7L287.4 461.2L287.6 461.9L287.8 461.9L287.9 461.5L288.1 460.7L288.3 459.6L288.5 458.2L288.7 456.4L288.9 454.5L289.1 452.5L289.3 450.5L289.5 448.4L289.7 445.9L289.9 443.3L290.1 440.9L290.3 438.8L290.5 437.0L290.6 435.4L290.8 434.2L291.0 433.3L291.2 432.8L291.4 432.6L291.6 433.0L291.8 434.2L292.0 436.1L292.2 438.5L292.4 441.4L292.6 444.6L292.8 448.0L293.0 451.3L293.1 454.4L293.3 457.1L293.5 459.3L293.7 460.9L293.9 461.8L294.1 461.9L294.3 461.6L294.5 460.8L294.7 459.7L294.9 458.2L295.1 456.4L295.3 454.3L295.5 452.2L295.7 450.1L295.8 447.8L296.0 445.1L296.2 442.5L296.4 440.1L296.6 438.1L296.8 436.3L297.0 434.9L297.2 433.8L297.4 433.2L297.6 432.9L297.8 433.2L298.0 434.3L298.2 436.1L298.3 438.5L298.5 441.4L298.7 444.6L298.9 448.0L299.1 451.4L299.3 454.6L299.5 457.5L299.7 459.9L299.9 461.7L300.1 462.7L300.3 463.0L300.5 462.7L300.7 461.8L300.9 460.5L301.0 458.7L301.2 456.6L301.4 454.2L301.6 451.8L301.8 449.2L302.0 446.3L302.2 443.4L302.4 440.8L302.6 438.7L302.8 436.8L303.0 435.5L303.2 434.6L303.4 434.2L303.5 434.4L303.7 435.3L303.9 436.8L304.1 439.0L304.3 441.6L304.5 444.6L304.7 447.7L304.9 450.9L305.1 453.9L305.3 456.6L305.5 458.9L305.7 460.6L305.9 461.6L306.1 462.0L306.2 461.7L306.4 461.1L306.6 460.2L306.8 458.8L307.0 457.2L307.2 455.3L307.4 453.2L307.6 451.2L307.8 449.0L308.0 446.5L308.2 444.0L308.4 441.7L308.6 439.7L308.7 437.9L308.9 436.5L309.1 435.3L309.3 434.6L309.5 434.2L309.7 434.3L309.9 435.0L310.1 436.5L310.3 438.5L310.5 441.1L310.7 444.0L310.9 447.1L311.1 450.2L311.2 453.3L311.4 456.1L311.6 458.4L311.8 460.3L312.0 461.5L312.2 461.9L312.4 461.8L312.6 461.4L312.8 460.6L313.0 459.5L313.2 458.1L313.4 456.5L313.6 454.6L313.8 452.7L313.9 450.8L314.1 448.7L314.3 446.4L314.5 444.2L314.7 442.1L314.9 440.3L315.1 438.7L315.3 437.3L315.5 436.2L315.7 435.5L315.9 435.1L316.1 435.1L316.3 435.6L316.4 436.9L316.6 438.7L316.8 441.1L317.0 443.8L317.2 446.8L317.4 449.9L317.6 452.9L317.8 455.7L318.0 458.1L318.2 460.0L318.4 461.3L318.6 461.9L318.8 461.9L319.0 461.5L319.1 460.8L319.3 459.9L319.5 458.6L319.7 457.0L319.9 455.3L320.1 453.5L320.3 451.6L320.5 449.6L320.7 447.5L320.9 445.3L321.1 443.3L321.3 441.5L321.5 439.9L321.6 438.5L321.8 437.4L322.0 436.6L322.2 436.1L322.4 436.0L322.6 436.4L322.8 437.5L323.0 439.1L323.2 441.3L323.4 443.8L323.6 446.7L323.8 449.6L324.0 452.6L324.2 455.3L324.3 457.7L324.5 459.6L324.7 461.0L324.9 461.8L325.1 461.9L325.3 461.6L325.5 461.0L325.7 460.0L325.9 458.7L326.1 457.1L326.3 455.4L326.5 453.5L326.7 451.5L326.8 449.4L327.0 447.2L327.2 445.1L327.4 443.2L327.6 441.4L327.8 439.9L328.0 438.7L328.2 437.8L328.4 437.2L328.6 437.0L328.8 437.2L329.0 438.1L329.2 439.5L329.4 441.5L329.5 443.8L329.7 446.4L329.9 449.1L330.1 451.8L330.3 454.4L330.5 456.7L330.7 458.6L330.9 460.0L331.1 460.8L331.3 461.0L331.5 460.8L331.7 460.3L331.9 459.6L332.0 458.5L332.2 457.3L332.4 455.8L332.6 454.2L332.8 452.5L333.0 450.7L333.2 448.9L333.4 447.0L333.6 445.2L333.8 443.5L334.0 442.0L334.2 440.7L334.4 439.6L334.5 438.8L334.7 438.2L334.9 438.0L335.1 438.1L335.3 438.8L335.5 440.0L335.7 441.8L335.9 443.9L336.1 446.4L336.3 448.9L336.5 451.6L336.7 454.1L336.9 456.4L337.1 458.3L337.2 459.7L337.4 460.7L337.6 461.0L337.8 460.9L338.0 460.4L338.2 459.5L338.4 458.4L338.6 457.0L338.8 455.4L339.0 453.6L339.2 451.7L339.4 449.7L339.6 447.7L339.7 445.8L339.9 444.1L340.1 442.5L340.3 441.2L340.5 440.2L340.7 439.5L340.9 439.1L341.1 439.2L341.3 439.7L341.5 440.8L341.7 442.4L341.9 444.4L342.1 446.7L342.3 449.1L342.4 451.6L342.6 454.1L342.8 456.3L343.0 458.2L343.2 459.6L343.4 460.6L343.6 461.0" stroke="#f64a0c" stroke-width="0.85" opacity="0.95"/>
</g>
<rect x="35.5" y="381.0" width="308.1" height="123.6" fill="none" stroke="#727272" stroke-width="0.85"/>
<path d="M66.31 504.6v-3.2M66.31 381.0v3.2M97.12 504.6v-3.2M97.12 381.0v3.2M127.93 504.6v-3.2M127.93 381.0v3.2M158.74 504.6v-3.2M158.74 381.0v3.2M189.55 504.6v-3.2M189.55 381.0v3.2M220.36 504.6v-3.2M220.36 381.0v3.2M251.17 504.6v-3.2M251.17 381.0v3.2M281.98 504.6v-3.2M281.98 381.0v3.2M312.79 504.6v-3.2M312.79 381.0v3.2M35.5 411.90h3.2M343.6 411.90h-3.2M35.5 442.80h3.2M343.6 442.80h-3.2M35.5 473.70h3.2M343.6 473.70h-3.2" stroke="#727272" stroke-width="0.85" fill="none"/>
<text class="tk" x="35.50" y="516.80" text-anchor="middle">0</text>
<text class="tk" x="66.31" y="516.80" text-anchor="middle">1</text>
<text class="tk" x="97.12" y="516.80" text-anchor="middle">2</text>
<text class="tk" x="127.93" y="516.80" text-anchor="middle">3</text>
<text class="tk" x="158.74" y="516.80" text-anchor="middle">4</text>
<text class="tk" x="189.55" y="516.80" text-anchor="middle">5</text>
<text class="tk" x="220.36" y="516.80" text-anchor="middle">6</text>
<text class="tk" x="251.17" y="516.80" text-anchor="middle">7</text>
<text class="tk" x="281.98" y="516.80" text-anchor="middle">8</text>
<text class="tk" x="312.79" y="516.80" text-anchor="middle">9</text>
<text class="tk" x="343.60" y="516.80" text-anchor="middle">10</text>
<text class="tk" x="32.10" y="384.80" text-anchor="end">1</text>
<text class="tk" x="32.10" y="415.70" text-anchor="end">0.5</text>
<text class="tk" x="32.10" y="446.60" text-anchor="end">0</text>
<text class="tk" x="32.10" y="477.50" text-anchor="end">-0.5</text>
<text class="tk" x="32.10" y="508.40" text-anchor="end">-1</text>
<rect x="218.2" y="387.4" width="117.9" height="30.2" fill="#fff" stroke="#5a5a5a" stroke-width="0.85"/>
<path d="M220.70 395.20H247.60" stroke="#0a76cf" stroke-width="0.85" opacity="0.85" fill="none"/>
<text class="lg" style="font-size:10.4px" x="249.70" y="399.25">Proposed method</text>
<path d="M220.70 409.50H247.60" stroke="#f64a0c" stroke-width="0.85" opacity="0.85" fill="none"/>
<text class="lg" style="font-size:10.4px" x="249.70" y="413.55">KLT</text>
<text class="xl" style="font-size:10.6px" x="189.4" y="529.60" text-anchor="middle">Time (s)</text>
<text class="yl" style="font-size:10.6px" transform="translate(13.4 442.80) rotate(-90)" text-anchor="middle">Error (mm)</text>
<text class="cap" transform="translate(182.4 545.10) scale(0.92 1)" text-anchor="middle">(c)</text>
</svg>
</body></html>
